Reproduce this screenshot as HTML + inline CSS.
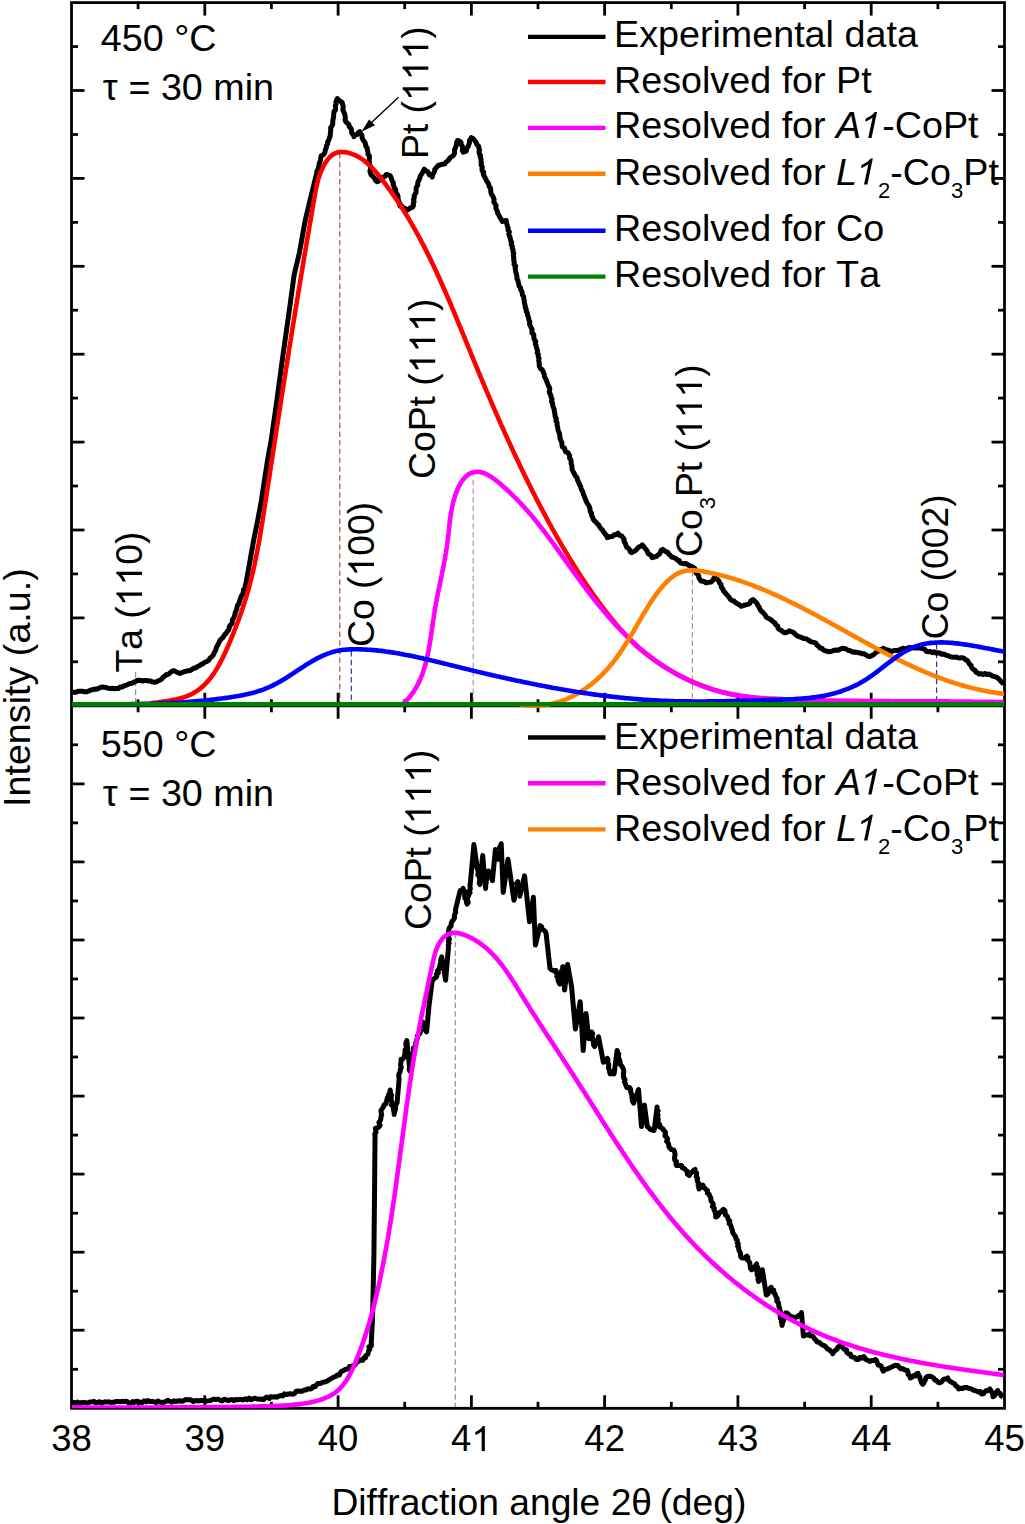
<!DOCTYPE html><html><head><meta charset="utf-8"><style>html,body{margin:0;padding:0;background:#fff;}svg{display:block;}text{font-family:"Liberation Sans",sans-serif;font-kerning:none;font-variant-ligatures:none;white-space:pre;}</style></head><body>
<svg width="1025" height="1524" viewBox="0 0 1025 1524">
<rect width="1025" height="1524" fill="#fff"/>
<line x1="135.6" y1="672" x2="135.6" y2="705.8" stroke="#7f9a85" stroke-width="1.2" stroke-dasharray="5.5 3.2"/>
<line x1="339.8" y1="153" x2="339.8" y2="705.8" stroke="#b84858" stroke-width="1.2" stroke-dasharray="5.5 3.2"/>
<line x1="351.3" y1="651" x2="351.3" y2="705.8" stroke="#3030b8" stroke-width="1.2" stroke-dasharray="5.5 3.2"/>
<line x1="473.2" y1="471" x2="473.2" y2="705.8" stroke="#b890c8" stroke-width="1.2" stroke-dasharray="5.5 3.2"/>
<line x1="692.4" y1="571" x2="692.4" y2="705.8" stroke="#b89070" stroke-width="1.2" stroke-dasharray="5.5 3.2"/>
<line x1="936.6" y1="644" x2="936.6" y2="705.8" stroke="#3030b8" stroke-width="1.2" stroke-dasharray="5.5 3.2"/>
<line x1="455.3" y1="933" x2="455.3" y2="1408.3" stroke="#a880b8" stroke-width="1.2" stroke-dasharray="5.5 3.2"/>
<g stroke="#000" stroke-width="2.8" fill="none">
<rect x="71.5" y="2.6" width="933" height="1405.7"/>
<line x1="71.5" y1="705.8" x2="1004.5" y2="705.8"/>
<line x1="138.1" y1="2.6" x2="138.1" y2="9.1"/>
<line x1="138.1" y1="705.8" x2="138.1" y2="699.3"/>
<line x1="138.1" y1="705.8" x2="138.1" y2="712.3"/>
<line x1="138.1" y1="1408.3" x2="138.1" y2="1401.8"/>
<line x1="204.8" y1="2.6" x2="204.8" y2="15.6"/>
<line x1="204.8" y1="705.8" x2="204.8" y2="692.8"/>
<line x1="204.8" y1="705.8" x2="204.8" y2="718.8"/>
<line x1="204.8" y1="1408.3" x2="204.8" y2="1395.3"/>
<line x1="271.4" y1="2.6" x2="271.4" y2="9.1"/>
<line x1="271.4" y1="705.8" x2="271.4" y2="699.3"/>
<line x1="271.4" y1="705.8" x2="271.4" y2="712.3"/>
<line x1="271.4" y1="1408.3" x2="271.4" y2="1401.8"/>
<line x1="338.1" y1="2.6" x2="338.1" y2="15.6"/>
<line x1="338.1" y1="705.8" x2="338.1" y2="692.8"/>
<line x1="338.1" y1="705.8" x2="338.1" y2="718.8"/>
<line x1="338.1" y1="1408.3" x2="338.1" y2="1395.3"/>
<line x1="404.7" y1="2.6" x2="404.7" y2="9.1"/>
<line x1="404.7" y1="705.8" x2="404.7" y2="699.3"/>
<line x1="404.7" y1="705.8" x2="404.7" y2="712.3"/>
<line x1="404.7" y1="1408.3" x2="404.7" y2="1401.8"/>
<line x1="471.4" y1="2.6" x2="471.4" y2="15.6"/>
<line x1="471.4" y1="705.8" x2="471.4" y2="692.8"/>
<line x1="471.4" y1="705.8" x2="471.4" y2="718.8"/>
<line x1="471.4" y1="1408.3" x2="471.4" y2="1395.3"/>
<line x1="538" y1="2.6" x2="538" y2="9.1"/>
<line x1="538" y1="705.8" x2="538" y2="699.3"/>
<line x1="538" y1="705.8" x2="538" y2="712.3"/>
<line x1="538" y1="1408.3" x2="538" y2="1401.8"/>
<line x1="604.6" y1="2.6" x2="604.6" y2="15.6"/>
<line x1="604.6" y1="705.8" x2="604.6" y2="692.8"/>
<line x1="604.6" y1="705.8" x2="604.6" y2="718.8"/>
<line x1="604.6" y1="1408.3" x2="604.6" y2="1395.3"/>
<line x1="671.3" y1="2.6" x2="671.3" y2="9.1"/>
<line x1="671.3" y1="705.8" x2="671.3" y2="699.3"/>
<line x1="671.3" y1="705.8" x2="671.3" y2="712.3"/>
<line x1="671.3" y1="1408.3" x2="671.3" y2="1401.8"/>
<line x1="737.9" y1="2.6" x2="737.9" y2="15.6"/>
<line x1="737.9" y1="705.8" x2="737.9" y2="692.8"/>
<line x1="737.9" y1="705.8" x2="737.9" y2="718.8"/>
<line x1="737.9" y1="1408.3" x2="737.9" y2="1395.3"/>
<line x1="804.6" y1="2.6" x2="804.6" y2="9.1"/>
<line x1="804.6" y1="705.8" x2="804.6" y2="699.3"/>
<line x1="804.6" y1="705.8" x2="804.6" y2="712.3"/>
<line x1="804.6" y1="1408.3" x2="804.6" y2="1401.8"/>
<line x1="871.2" y1="2.6" x2="871.2" y2="15.6"/>
<line x1="871.2" y1="705.8" x2="871.2" y2="692.8"/>
<line x1="871.2" y1="705.8" x2="871.2" y2="718.8"/>
<line x1="871.2" y1="1408.3" x2="871.2" y2="1395.3"/>
<line x1="937.9" y1="2.6" x2="937.9" y2="9.1"/>
<line x1="937.9" y1="705.8" x2="937.9" y2="699.3"/>
<line x1="937.9" y1="705.8" x2="937.9" y2="712.3"/>
<line x1="937.9" y1="1408.3" x2="937.9" y2="1401.8"/>
<line x1="71.5" y1="661.8" x2="78" y2="661.8"/>
<line x1="1004.5" y1="661.8" x2="998" y2="661.8"/>
<line x1="71.5" y1="617.9" x2="84.5" y2="617.9"/>
<line x1="1004.5" y1="617.9" x2="991.5" y2="617.9"/>
<line x1="71.5" y1="573.9" x2="78" y2="573.9"/>
<line x1="1004.5" y1="573.9" x2="998" y2="573.9"/>
<line x1="71.5" y1="530" x2="84.5" y2="530"/>
<line x1="1004.5" y1="530" x2="991.5" y2="530"/>
<line x1="71.5" y1="486" x2="78" y2="486"/>
<line x1="1004.5" y1="486" x2="998" y2="486"/>
<line x1="71.5" y1="442.1" x2="84.5" y2="442.1"/>
<line x1="1004.5" y1="442.1" x2="991.5" y2="442.1"/>
<line x1="71.5" y1="398.1" x2="78" y2="398.1"/>
<line x1="1004.5" y1="398.1" x2="998" y2="398.1"/>
<line x1="71.5" y1="354.2" x2="84.5" y2="354.2"/>
<line x1="1004.5" y1="354.2" x2="991.5" y2="354.2"/>
<line x1="71.5" y1="310.2" x2="78" y2="310.2"/>
<line x1="1004.5" y1="310.2" x2="998" y2="310.2"/>
<line x1="71.5" y1="266.3" x2="84.5" y2="266.3"/>
<line x1="1004.5" y1="266.3" x2="991.5" y2="266.3"/>
<line x1="71.5" y1="222.4" x2="78" y2="222.4"/>
<line x1="1004.5" y1="222.4" x2="998" y2="222.4"/>
<line x1="71.5" y1="178.4" x2="84.5" y2="178.4"/>
<line x1="1004.5" y1="178.4" x2="991.5" y2="178.4"/>
<line x1="71.5" y1="134.5" x2="78" y2="134.5"/>
<line x1="1004.5" y1="134.5" x2="998" y2="134.5"/>
<line x1="71.5" y1="90.5" x2="84.5" y2="90.5"/>
<line x1="1004.5" y1="90.5" x2="991.5" y2="90.5"/>
<line x1="71.5" y1="46.6" x2="78" y2="46.6"/>
<line x1="1004.5" y1="46.6" x2="998" y2="46.6"/>
<line x1="71.5" y1="1369.3" x2="78" y2="1369.3"/>
<line x1="1004.5" y1="1369.3" x2="998" y2="1369.3"/>
<line x1="71.5" y1="1330.2" x2="84.5" y2="1330.2"/>
<line x1="1004.5" y1="1330.2" x2="991.5" y2="1330.2"/>
<line x1="71.5" y1="1291.2" x2="78" y2="1291.2"/>
<line x1="1004.5" y1="1291.2" x2="998" y2="1291.2"/>
<line x1="71.5" y1="1252.2" x2="84.5" y2="1252.2"/>
<line x1="1004.5" y1="1252.2" x2="991.5" y2="1252.2"/>
<line x1="71.5" y1="1213.2" x2="78" y2="1213.2"/>
<line x1="1004.5" y1="1213.2" x2="998" y2="1213.2"/>
<line x1="71.5" y1="1174.1" x2="84.5" y2="1174.1"/>
<line x1="1004.5" y1="1174.1" x2="991.5" y2="1174.1"/>
<line x1="71.5" y1="1135.1" x2="78" y2="1135.1"/>
<line x1="1004.5" y1="1135.1" x2="998" y2="1135.1"/>
<line x1="71.5" y1="1096.1" x2="84.5" y2="1096.1"/>
<line x1="1004.5" y1="1096.1" x2="991.5" y2="1096.1"/>
<line x1="71.5" y1="1057" x2="78" y2="1057"/>
<line x1="1004.5" y1="1057" x2="998" y2="1057"/>
<line x1="71.5" y1="1018" x2="84.5" y2="1018"/>
<line x1="1004.5" y1="1018" x2="991.5" y2="1018"/>
<line x1="71.5" y1="979" x2="78" y2="979"/>
<line x1="1004.5" y1="979" x2="998" y2="979"/>
<line x1="71.5" y1="940" x2="84.5" y2="940"/>
<line x1="1004.5" y1="940" x2="991.5" y2="940"/>
<line x1="71.5" y1="900.9" x2="78" y2="900.9"/>
<line x1="1004.5" y1="900.9" x2="998" y2="900.9"/>
<line x1="71.5" y1="861.9" x2="84.5" y2="861.9"/>
<line x1="1004.5" y1="861.9" x2="991.5" y2="861.9"/>
<line x1="71.5" y1="822.9" x2="78" y2="822.9"/>
<line x1="1004.5" y1="822.9" x2="998" y2="822.9"/>
<line x1="71.5" y1="783.9" x2="84.5" y2="783.9"/>
<line x1="1004.5" y1="783.9" x2="991.5" y2="783.9"/>
<line x1="71.5" y1="744.8" x2="78" y2="744.8"/>
<line x1="1004.5" y1="744.8" x2="998" y2="744.8"/>
</g>
<g clip-path="url(#cp)">
<path d="M72 692.6 L74.1 692.3 L76.1 692.2 L78.1 691.3 L80.2 691.2 L82.2 691.2 L84.3 691.8 L86.4 691.8 L88.4 691.2 L90.3 690.2 L92.4 689.8 L94.4 689.1 L96.6 689.2 L98.8 688.4 L100.9 687.2 L103.4 687.1 L105.7 687.5 L108 688.2 L110.3 688.5 L112.3 688.2 L114.3 688.7 L116.4 688.6 L118.4 688.5 L120.2 687 L122.5 686.9 L124.4 685.6 L126.6 685.1 L128.3 684.3 L129.9 683.4 L131.9 683.3 L133.5 682.3 L135.3 681.6 L136.9 680.5 L138.9 680.3 L140.8 680.5 L142.7 681 L144.7 680.4 L146.6 680.5 L148.5 681 L150.6 681 L152.5 682 L154.6 682.2 L156.7 681.7 L158.5 680.8 L160.3 680 L161.9 678.8 L163.2 677.2 L164.9 676.2 L166.2 674.6 L168.3 674.2 L169.9 673 L171.4 671.6 L173.1 670.7 L174.9 671 L176.5 672 L178.2 672.8 L179.9 673.5 L181.8 672.5 L183.9 671.8 L186 671.3 L188.1 670.7 L190.3 670.4 L192.1 669.3 L193.9 668.2 L196 667.7 L197.5 666.5 L199.4 665.7 L200.9 664.5 L202.8 663.9 L204.6 662.3 L206.9 661.5 L208.9 660.2 L210 658.1 L211.9 656.7 L213.4 654.9 L214 652.9 L215.2 651.2 L216 649.3 L216.4 647.3 L217.6 645.4 L218.6 643.4 L219.4 641.3 L220.8 639.4 L222.6 637.9 L223.9 636 L224.9 634.4 L226.3 633.1 L227.2 631.4 L228.5 630 L229.2 628.3 L229.4 626.4 L230.4 624.9 L232.1 623.6 L232.2 621.7 L232.5 619.8 L233.7 618.1 L234.3 616.3 L235 614.5 L235.3 612.6 L236 610.8 L236.9 609.1 L237 607 L237.7 605.2 L239 603.6 L239.4 601.5 L240.1 599.5 L240.8 597.5 L241.6 595.6 L242.8 593.8 L243.4 591.8 L243.5 589.7 L245 588.1 L245.2 586 L245.6 584 L246.3 582 L246.6 580 L253.7 540 L257.8 520 L261.5 500 L267.6 460 L271.2 440 L276.4 403.8 L281.7 364.4 L286.3 331.6 L290.2 304 L294.1 275.1 L299.4 252.8 L305.3 220 L311.5 194.4 L316.8 172.9 L317 170.9 L318.3 169.2 L318.7 167.3 L319 165.4 L319.2 163.4 L320.1 161.6 L320.5 159.7 L320.8 157.8 L321.1 155.8 L323 155.2 L324.3 153.6 L325.1 151.7 L325.4 149.7 L326.3 147.9 L326.5 145.8 L327.6 144 L327.6 141.9 L328.8 140.1 L329.4 138.1 L330.1 136.1 L330.4 134.1 L330.4 132 L330.8 130 L330.6 128 L331.6 126.3 L332.6 124.6 L332.8 122.7 L332.8 120.7 L333.1 118.8 L333.6 117 L333.6 115.1 L333.9 113.2 L334.1 111.3 L335.6 109.7 L335.6 107.8 L335.3 105.8 L336.1 104 L335.9 102.1 L336.5 100.3 L337.3 98.5 L338.7 100.1 L340.4 101.3 L342.2 102.4 L342.6 104.4 L343.2 106.3 L343 108.3 L342.9 110.3 L343.9 112.2 L344.7 114 L345.1 116 L345.4 117.9 L345.1 120 L345.9 122 L347.7 123.3 L349 124.9 L349.3 126.8 L350.8 128.1 L351.4 129.8 L351.6 131.7 L352 133.5 L353.4 134.8 L353.9 136.6 L355 134.9 L357.2 134.5 L358.1 132.7 L359.8 131.7 L360.3 133.7 L361.9 135.1 L362 137.3 L362.7 139.2 L363.7 140.9 L365 142.5 L365.6 144.4 L365.9 146.4 L367.2 148.1 L367.5 150.2 L367.9 152.1 L367.9 154.3 L369.4 155.9 L369.5 158 L369.1 159.9 L369.3 161.8 L369.2 163.7 L370.2 165.5 L370.5 167.4 L370.6 169.3 L369.9 171.2 L370.5 173.1 L371.1 174.9 L372.5 176.1 L373.8 177.4 L375.1 178.7 L375.6 180.6 L377.1 181.7 L379 180.9 L379.8 178.8 L381.5 177.7 L383.5 177.2 L385.1 176 L386.3 174.4 L388.3 174.9 L390.2 175.8 L391.1 177.4 L391.6 179.3 L392.1 181.1 L393.4 182.6 L393.1 184.7 L394.1 186.3 L394.4 188.2 L395.8 189.7 L395.5 191.8 L396.5 193.4 L397.6 195 L398.1 196.8 L397.9 198.8 L398.6 200.5 L398.8 202.4 L400.2 204 L400 206 L402.1 206.4 L403.5 208.2 L405.6 208.7 L407.3 209.9 L409 209.1 L410.6 207.7 L412.5 207.3 L413.5 205.5 L413.2 203.5 L414.1 201.7 L413.4 199.6 L414.3 197.9 L414.1 195.9 L415.1 194.1 L416.1 192.4 L416.1 190.4 L416.1 188.4 L416.7 186.6 L417.8 185 L417.7 183 L418.4 181.2 L419.3 179.4 L419.9 177.6 L420.4 175.8 L421.5 174.2 L422.5 172.6 L423.2 170.8 L424.3 169.2 L425.5 170.6 L427.3 171.5 L428.5 172.9 L429.3 174.8 L431.2 175.4 L432.2 177.1 L432.6 175.1 L433.4 173.3 L434.5 171.6 L434.7 169.5 L436.1 167.9 L437.6 165.9 L440 164.9 L442.4 164.3 L444.9 163.9 L445.8 162.1 L447.5 161.1 L448.9 159.7 L449.8 158 L451.8 156.6 L453.7 155.1 L454.5 153.3 L454.5 151.4 L454.5 149.5 L455.6 147.8 L456 145.9 L456.8 144.2 L456.6 142.2 L457.6 140.5 L459.5 141.1 L461 142.4 L461.1 144.5 L462.3 146.2 L462.6 148.3 L462.3 150.4 L463.4 152.2 L466.3 151.2 L466.6 149.4 L467.1 147.6 L468.4 146.2 L468.8 144.4 L469.5 142.8 L469.4 140.8 L470.5 139.3 L471.2 137.6 L473.3 138.7 L474.7 140.5 L476.1 142.4 L476.8 144.5 L478.6 146.1 L479 148.3 L479.6 150 L479 152 L479.4 153.8 L480.4 155.4 L480.3 157.3 L481 159 L481 161 L481.4 162.9 L481.1 164.9 L482.3 166.8 L482 168.8 L482.1 170.7 L483.8 172.1 L483.3 174.2 L484.1 175.9 L484.9 177.6 L485.9 179.3 L486.6 181.1 L487.9 182.7 L488.8 184.4 L489.1 186.5 L490.6 188.1 L490.7 190.3 L490.9 192.4 L491.5 194.3 L492.7 196.1 L493.6 197.9 L494.1 199.9 L493.8 202.1 L495.1 203.9 L496.1 205.7 L495.8 207.9 L496.6 209.8 L497.4 211.5 L497.7 213.3 L498.8 214.9 L499.5 216.6 L500.5 218.2 L501.5 219.8 L502.4 221.5 L504.3 220.7 L506.3 220.5 L506.3 222.6 L507.1 224.5 L507.4 226.5 L508.3 228.3 L508.1 230.2 L509.4 231.8 L508.8 233.8 L509.2 235.5 L510.1 237.2 L510.3 239 L510.8 240.8 L511.7 242.5 L511.2 244.5 L512.3 246.2 L512.2 248.1 L513.1 249.8 L513 251.7 L513.8 253.4 L513.3 255.3 L513.7 257.1 L513.7 258.9 L513.8 260.8 L514.4 262.5 L514 264.4 L515.6 266 L515.1 267.9 L515.5 269.7 L515.7 271.5 L516.2 273.3 L516.6 275.1 L517 277 L517 278.9 L518 280.6 L518.3 282.4 L518.8 284.2 L519.1 286.1 L520.5 287.6 L520.7 289.6 L521.7 291.2 L522.3 293 L522.4 295 L523.6 296.6 L523.8 298.5 L524.2 300.3 L524.3 302.2 L524.7 304 L525.3 305.8 L525.3 307.7 L526.3 309.4 L526.2 311.3 L527.4 313 L527.4 314.9 L528.2 316.6 L528.6 318.4 L529 320.3 L529.9 322 L529.5 324 L530.2 325.8 L531 327.5 L532 329.1 L532 331.1 L531.9 333.1 L533.7 334.5 L533.9 336.4 L533.8 338.3 L534.7 340 L535.8 341.6 L535.3 343.7 L536.1 345.4 L536.3 347.2 L537 348.9 L537.6 350.7 L537.2 352.7 L538.3 354.6 L538.2 356.6 L539.1 358.5 L538.7 360.6 L539.1 362.5 L539.2 364.5 L539.4 366.5 L540.2 368.2 L542 369.5 L542.9 371.1 L543.6 372.9 L544.3 374.7 L544.4 376.7 L545.4 378.3 L546.2 380 L547 382.1 L547.8 384.1 L548.6 386.2 L549.7 387.9 L549.7 389.9 L549.3 392 L550 393.8 L550.9 395.6 L551.2 397.6 L552.1 399.4 L551.5 401.6 L552.6 403.4 L552.7 405.4 L553.3 407.3 L554.1 409.1 L554.3 411 L554.7 412.9 L555 414.8 L555.2 416.7 L556.3 418.6 L555.9 420.8 L557.1 422.7 L557 424.8 L557.6 426.8 L557.9 428.9 L558.2 430.9 L559.3 432.9 L559.7 434.9 L559.9 437 L560.1 439 L561.1 440.9 L561.9 442.7 L561.9 444.8 L562.4 446.9 L564.6 448.1 L565 450.3 L565.9 452 L567.8 452.7 L568.9 454.2 L569.7 455.9 L569.5 458 L570.8 459.6 L571.2 461.5 L571.1 463.5 L571.8 465.4 L572 467.4 L572.2 469.7 L573.2 471.7 L574.3 473.7 L575.4 475.8 L577 477.6 L577.5 480 L578.5 481.9 L579.2 483.9 L580.3 485.7 L580.9 487.8 L581.6 489.8 L582.8 491.6 L583.2 493.7 L584 495.7 L584.8 497.6 L585.6 499.7 L586.4 501.7 L587.4 503.6 L588.7 505.4 L589.5 507.3 L590.1 509.3 L590.2 511.4 L591.5 513.1 L591.6 515.3 L592.6 517.1 L593.2 519.2 L594.5 520.8 L596.1 522.2 L597.4 523.9 L598.8 525.2 L599.7 527 L600.9 528.5 L602.3 529.8 L603.2 531.4 L604.4 532.8 L605.3 534.4 L606.7 535.7 L607.2 537.6 L609.6 536.8 L612.1 536.6 L613.8 535 L616.1 534.5 L617.9 533.2 L619.1 535.1 L621.5 535.8 L622.8 537.6 L624.2 539.3 L624 541.6 L625.3 543.3 L625.9 545.4 L626.7 547.3 L628.4 548.2 L629.5 549.7 L630.2 551.5 L631.6 552.7 L633.1 551.7 L634.8 550.9 L636.3 549.9 L637.4 548.3 L638.9 547 L640.8 546.2 L642.3 544.9 L643.6 546.4 L644.7 548.1 L646.1 549.5 L647.2 551.2 L647.9 553.2 L649.5 554.5 L651.3 555.7 L652.1 557.6 L654.1 557 L656.2 556.5 L657.9 555.1 L659.5 554 L660.4 552.3 L661.1 550.3 L662.8 549.3 L664.2 550.6 L665.8 551.8 L667.7 552.2 L668.7 554 L670.4 555.4 L671.6 557.1 L673.8 557.6 L675.9 558.5 L677.1 560 L679.2 560.5 L680 562.5 L681.7 563.4 L683.7 563.7 L685.7 563.5 L687.6 564.4 L689.3 565.8 L691.5 566.2 L693.4 567.3 L694.9 568.7 L695.7 570.5 L695.9 572.7 L697.3 574.1 L698.7 575.6 L698.9 577.7 L699.9 579.5 L701.2 581 L703.9 581.4 L706.1 582.9 L708.5 582.4 L711 582 L712.6 580.6 L713.6 578.7 L714.9 577.1 L715.8 578.8 L717.6 579.6 L718.8 581 L719.6 583 L721.1 584.7 L721.3 587.1 L722.7 588.8 L723.6 591 L725.2 592.7 L726.6 594.6 L728.1 596.1 L729.4 597.7 L730.5 599.5 L732.1 600.6 L734 601 L735.4 602.4 L737.3 603.7 L739.4 604.8 L741.2 606.3 L743.4 605.5 L745.7 604.8 L748 604.4 L750 603.1 L750.9 600.8 L752.9 599.5 L754.4 600.7 L755.7 602.1 L757.1 603.5 L757.8 605.4 L759.1 607 L759.9 609.1 L761 610.8 L762.7 612.2 L763.9 613.6 L765.2 615 L766 616.9 L767.6 618 L769.9 619 L771.5 620.3 L773.1 621.7 L774.8 622.9 L775.8 624.7 L777.7 626 L778 628.3 L779.6 629.8 L781.5 630.3 L782.8 631.8 L784.5 632.7 L787.2 632.3 L789.4 630.7 L791 631.6 L792.8 632.2 L794.3 633.2 L795.7 634.6 L797.2 635.9 L799.1 636.6 L801.5 637.7 L804 638.5 L806.7 638.9 L808.9 640.5 L811.2 641.9 L813.8 642.4 L815.9 643.2 L816.9 645.2 L818.7 646.3 L819.9 648 L822.2 648.5 L823.5 650.2 L825.9 651 L828.4 651.7 L830.9 651.5 L833.3 650.7 L835.7 650 L838.2 650.2 L840.5 648.9 L843 648.3 L845.7 648.7 L847.9 650.2 L850.5 650.8 L852.8 652.2 L855.3 651.9 L857.7 652.7 L859.8 652.7 L861.8 653.7 L864 653.7 L865.8 654.9 L867.8 656 L869.9 656.6 L872 655.5 L874 654.3 L875.7 652.7 L877 651.4 L878.9 651 L880 649.4 L881.9 649.1 L883.5 648.2 L885.3 649.5 L887.4 649.9 L889.5 650.6 L891.3 651.7 L893.2 650.8 L895.2 650.4 L897.3 650.5 L899.3 650 L901.1 649.1 L903 648.2 L905 648.8 L907 648.4 L908.9 647.6 L910.9 647.8 L912.8 647.7 L914.8 648.1 L916.7 648.1 L918.7 648 L920.6 647.8 L922.6 648.8 L924.7 649.3 L926.2 651.3 L928.4 651.7 L930.4 651.5 L932.3 652.8 L934.3 651.8 L936.2 653.2 L938.2 652.7 L940.2 653.2 L942 654.4 L944.3 654 L946 655.2 L948.1 655.6 L949.9 656.6 L951.8 657 L953.8 657.2 L955.8 657 L957.7 657.6 L959.6 658.1 L961.6 657.6 L963.8 658.1 L965.4 659.6 L967.4 660.5 L968.4 662.4 L969.6 664.1 L971.2 665.6 L971.7 667.8 L973.3 669.3 L975 670.2 L975.9 672.1 L977.7 672.9 L979.1 674.1 L981.1 673.6 L983 674.6 L985 673.5 L986.9 674.5 L988.9 674.1 L990.8 675 L992.6 676.1 L994.6 676.7 L996.7 677.1 L998.2 678.6 L999.8 679.9 L1001 681.6 L1002.7 682.9 L1003.5 684.9" fill="none" stroke="#000000" stroke-width="5.0" stroke-linejoin="round" stroke-linecap="butt"/>
<path d="M150.2 703.5 L151.5 703.3 L152.9 703.1 L154.3 702.9 L155.7 702.7 L157.1 702.5 L158.6 702.3 L160.1 702 L161.6 701.8 L163.1 701.6 L164.6 701.4 L166.1 701.2 L167.6 700.9 L169.2 700.7 L170.7 700.4 L172.2 700.1 L173.8 699.8 L175.3 699.5 L176.8 699.1 L178.3 698.8 L179.8 698.4 L181.3 698 L182.8 697.5 L184.2 697.1 L185.7 696.6 L187.1 696 L188.5 695.5 L189.8 694.9 L191.2 694.3 L192.5 693.6 L193.8 692.9 L195 692.1 L196.2 691.4 L197.4 690.6 L198.6 689.7 L199.8 688.9 L200.9 688 L202 687 L203.1 686.1 L204.1 685.1 L205.1 684.1 L206.1 683 L207.1 682 L208.1 680.9 L209 679.8 L210 678.6 L210.9 677.5 L211.8 676.3 L212.6 675.1 L213.5 673.9 L214.3 672.7 L215.1 671.4 L215.9 670.1 L216.7 668.9 L217.5 667.6 L218.2 666.2 L219 664.9 L219.7 663.6 L220.4 662.2 L221.1 660.9 L221.8 659.5 L222.5 658.1 L223.2 656.8 L223.8 655.4 L224.5 654 L225.1 652.6 L225.8 651.2 L226.4 649.8 L227 648.4 L227.7 647 L228.3 645.5 L228.9 644.1 L229.5 642.7 L230.1 641.3 L230.7 639.9 L231.2 638.5 L231.8 637.1 L232.4 635.7 L233 634.3 L233.5 632.9 L234.1 631.5 L234.6 630.1 L235.2 628.7 L235.7 627.3 L236.3 625.9 L236.8 624.5 L237.3 623.1 L237.9 621.7 L238.4 620.3 L238.9 618.9 L239.4 617.5 L239.9 616.1 L240.4 614.7 L240.9 613.3 L241.4 611.9 L241.9 610.5 L242.3 609.1 L242.8 607.7 L243.3 606.3 L243.7 604.9 L244.2 603.4 L244.7 602 L245.1 600.6 L245.5 599.2 L246 597.8 L246.4 596.4 L246.8 595 L247.2 593.5 L247.7 592.1 L248.1 590.7 L248.5 589.3 L248.9 587.8 L249.2 586.4 L249.6 585 L250 583.5 L250.4 582.1 L250.7 580.6 L251.1 579.2 L251.5 577.8 L251.8 576.3 L252.2 574.9 L252.5 573.4 L252.9 572 L253.2 570.5 L253.5 569.1 L253.8 567.6 L254.2 566.1 L254.5 564.7 L254.8 563.2 L255.1 561.8 L255.4 560.3 L255.7 558.8 L256 557.4 L256.3 555.9 L256.6 554.4 L256.9 552.9 L257.2 551.5 L257.5 550 L257.7 548.5 L258 547 L258.3 545.6 L258.6 544.1 L258.8 542.6 L259.1 541.1 L259.4 539.7 L259.6 538.2 L259.9 536.7 L260.1 535.2 L260.4 533.7 L260.6 532.2 L260.9 530.8 L261.1 529.3 L261.4 527.8 L261.6 526.3 L261.9 524.8 L262.1 523.3 L262.3 521.8 L262.6 520.4 L262.8 518.9 L263 517.4 L263.3 515.9 L263.5 514.4 L263.7 512.9 L264 511.4 L264.2 509.9 L264.4 508.4 L264.7 506.9 L264.9 505.5 L265.1 504 L265.3 502.5 L265.6 501 L265.8 499.5 L266 498 L266.3 496.5 L266.5 495 L266.7 493.6 L266.9 492.1 L267.2 490.6 L267.4 489.1 L267.6 487.6 L267.9 486.1 L268.1 484.6 L268.3 483.1 L268.5 481.7 L268.8 480.2 L269 478.7 L269.2 477.2 L269.5 475.7 L269.7 474.2 L269.9 472.7 L270.1 471.3 L270.4 469.8 L270.6 468.3 L270.8 466.8 L271 465.3 L271.3 463.8 L271.5 462.4 L271.7 460.9 L272 459.4 L272.2 457.9 L272.4 456.4 L272.6 454.9 L272.9 453.5 L273.1 452 L273.3 450.5 L273.6 449 L273.8 447.5 L274 446 L274.2 444.6 L274.5 443.1 L274.7 441.6 L274.9 440.1 L275.2 438.6 L275.4 437.2 L275.6 435.7 L275.8 434.2 L276.1 432.7 L276.3 431.2 L276.5 429.8 L276.8 428.3 L277 426.8 L277.2 425.3 L277.5 423.8 L277.7 422.4 L277.9 420.9 L278.1 419.4 L278.4 417.9 L278.6 416.4 L278.8 415 L279.1 413.5 L279.3 412 L279.5 410.5 L279.8 409 L280 407.6 L280.2 406.1 L280.4 404.6 L280.7 403.1 L280.9 401.6 L281.1 400.2 L281.4 398.7 L281.6 397.2 L281.8 395.7 L282.1 394.3 L282.3 392.8 L282.5 391.3 L282.8 389.8 L283 388.3 L283.2 386.9 L283.5 385.4 L283.7 383.9 L283.9 382.4 L284.2 381 L284.4 379.5 L284.6 378 L284.8 376.5 L285.1 375.1 L285.3 373.6 L285.5 372.1 L285.8 370.6 L286 369.1 L286.2 367.7 L286.5 366.2 L286.7 364.7 L287 363.2 L287.2 361.8 L287.4 360.3 L287.7 358.8 L287.9 357.3 L288.1 355.8 L288.4 354.4 L288.6 352.9 L288.8 351.4 L289.1 349.9 L289.3 348.5 L289.5 347 L289.8 345.5 L290 344 L290.2 342.6 L290.5 341.1 L290.7 339.6 L291 338.1 L291.2 336.6 L291.4 335.2 L291.7 333.7 L291.9 332.2 L292.1 330.7 L292.4 329.3 L292.6 327.8 L292.9 326.3 L293.1 324.8 L293.3 323.4 L293.6 321.9 L293.8 320.4 L294 318.9 L294.3 317.4 L294.5 316 L294.8 314.5 L295 313 L295.2 311.5 L295.5 310.1 L295.7 308.6 L296 307.1 L296.2 305.6 L296.5 304.1 L296.7 302.7 L296.9 301.2 L297.2 299.7 L297.4 298.2 L297.7 296.7 L297.9 295.3 L298.1 293.8 L298.4 292.3 L298.6 290.8 L298.9 289.4 L299.1 287.9 L299.4 286.4 L299.6 284.9 L299.9 283.4 L300.1 282 L300.3 280.5 L300.6 279 L300.8 277.5 L301.1 276 L301.3 274.6 L301.6 273.1 L301.8 271.6 L302.1 270.1 L302.3 268.6 L302.6 267.2 L302.8 265.7 L303.1 264.2 L303.3 262.7 L303.5 261.2 L303.8 259.7 L304 258.3 L304.3 256.8 L304.5 255.3 L304.8 253.8 L305 252.3 L305.3 250.9 L305.5 249.4 L305.8 247.9 L306 246.4 L306.3 244.9 L306.5 243.4 L306.8 242 L307 240.5 L307.3 239 L307.6 237.5 L307.8 236 L308.1 234.5 L308.3 233.1 L308.6 231.6 L308.8 230.1 L309.1 228.6 L309.3 227.1 L309.6 225.6 L309.8 224.1 L310.1 222.7 L310.4 221.2 L310.6 219.7 L310.9 218.2 L311.1 216.7 L311.4 215.2 L311.6 213.7 L311.9 212.2 L312.2 210.8 L312.4 209.3 L312.7 207.8 L312.9 206.3 L313.2 204.8 L313.4 203.3 L313.7 201.8 L314 200.3 L314.2 198.9 L314.5 197.4 L314.8 195.9 L315 194.4 L315.3 192.9 L315.6 191.4 L315.9 189.9 L316.1 188.4 L316.5 187 L316.8 185.5 L317.1 184 L317.5 182.6 L317.8 181.1 L318.2 179.7 L318.6 178.3 L319.1 176.8 L319.5 175.4 L320 174 L320.5 172.6 L321.1 171.2 L321.7 169.9 L322.3 168.5 L322.9 167.2 L323.6 165.8 L324.3 164.5 L325.1 163.2 L325.9 162 L326.8 160.7 L327.7 159.5 L328.6 158.3 L329.6 157.2 L330.7 156.2 L331.8 155.3 L333 154.4 L334.3 153.7 L335.6 153.1 L336.9 152.7 L338.3 152.3 L339.8 152.1 L341.3 152 L342.8 152 L344.3 152.1 L345.8 152.3 L347.3 152.6 L348.8 153 L350.2 153.4 L351.6 153.8 L353 154.3 L354.4 154.8 L355.7 155.4 L357 156.1 L358.3 156.8 L359.6 157.5 L360.8 158.3 L362 159.1 L363.2 159.9 L364.4 160.8 L365.5 161.8 L366.7 162.7 L367.8 163.7 L368.9 164.7 L370 165.7 L371 166.8 L372.1 167.9 L373.1 169 L374.1 170.1 L375.1 171.2 L376.1 172.4 L377.1 173.5 L378.1 174.7 L379.1 175.9 L380 177.1 L381 178.3 L381.9 179.5 L382.8 180.7 L383.8 181.9 L384.7 183.1 L385.6 184.3 L386.5 185.5 L387.4 186.8 L388.3 188 L389.2 189.2 L390.1 190.4 L391 191.7 L391.9 192.9 L392.7 194.1 L393.6 195.4 L394.5 196.6 L395.3 197.8 L396.2 199.1 L397 200.3 L397.8 201.6 L398.7 202.8 L399.5 204.1 L400.3 205.3 L401.1 206.6 L402 207.9 L402.8 209.1 L403.6 210.4 L404.4 211.7 L405.1 212.9 L405.9 214.2 L406.7 215.5 L407.5 216.8 L408.3 218.1 L409 219.3 L409.8 220.6 L410.5 221.9 L411.3 223.2 L412 224.5 L412.8 225.8 L413.5 227.1 L414.3 228.4 L415 229.7 L415.7 231 L416.4 232.3 L417.2 233.6 L417.9 234.9 L418.6 236.2 L419.3 237.5 L420 238.8 L420.7 240.2 L421.4 241.5 L422.1 242.8 L422.8 244.1 L423.5 245.4 L424.2 246.8 L424.8 248.1 L425.5 249.4 L426.2 250.8 L426.9 252.1 L427.5 253.4 L428.2 254.8 L428.9 256.1 L429.5 257.4 L430.2 258.8 L430.8 260.1 L431.5 261.5 L432.1 262.8 L432.8 264.2 L433.4 265.5 L434 266.9 L434.7 268.2 L435.3 269.6 L435.9 270.9 L436.6 272.3 L437.2 273.6 L437.8 275 L438.4 276.4 L439.1 277.7 L439.7 279.1 L440.3 280.5 L440.9 281.8 L441.5 283.2 L442.1 284.5 L442.7 285.9 L443.3 287.3 L443.9 288.7 L444.6 290 L445.2 291.4 L445.7 292.8 L446.3 294.1 L446.9 295.5 L447.5 296.9 L448.1 298.3 L448.7 299.7 L449.3 301 L449.9 302.4 L450.5 303.8 L451.1 305.2 L451.6 306.6 L452.2 307.9 L452.8 309.3 L453.4 310.7 L454 312.1 L454.5 313.5 L455.1 314.9 L455.7 316.2 L456.3 317.6 L456.8 319 L457.4 320.4 L458 321.8 L458.6 323.2 L459.1 324.6 L459.7 326 L460.3 327.3 L460.8 328.7 L461.4 330.1 L462 331.5 L462.6 332.9 L463.1 334.3 L463.7 335.7 L464.3 337.1 L464.8 338.5 L465.4 339.9 L466 341.2 L466.5 342.6 L467.1 344 L467.7 345.4 L468.2 346.8 L468.8 348.2 L469.4 349.6 L469.9 351 L470.5 352.4 L471.1 353.8 L471.6 355.1 L472.2 356.5 L472.8 357.9 L473.3 359.3 L473.9 360.7 L474.5 362.1 L475.1 363.5 L475.6 364.9 L476.2 366.3 L476.8 367.6 L477.4 369 L477.9 370.4 L478.5 371.8 L479.1 373.2 L479.7 374.6 L480.2 376 L480.8 377.3 L481.4 378.7 L482 380.1 L482.6 381.5 L483.1 382.9 L483.7 384.3 L484.3 385.6 L484.9 387 L485.5 388.4 L486 389.8 L486.6 391.2 L487.2 392.5 L487.8 393.9 L488.4 395.3 L489 396.7 L489.6 398.1 L490.2 399.4 L490.8 400.8 L491.3 402.2 L491.9 403.6 L492.5 404.9 L493.1 406.3 L493.7 407.7 L494.3 409.1 L494.9 410.4 L495.5 411.8 L496.1 413.2 L496.7 414.6 L497.3 415.9 L497.9 417.3 L498.5 418.7 L499.1 420.1 L499.7 421.4 L500.3 422.8 L500.9 424.2 L501.5 425.5 L502.2 426.9 L502.8 428.3 L503.4 429.6 L504 431 L504.6 432.4 L505.2 433.7 L505.8 435.1 L506.5 436.5 L507.1 437.8 L507.7 439.2 L508.3 440.6 L508.9 441.9 L509.6 443.3 L510.2 444.6 L510.8 446 L511.4 447.4 L512.1 448.7 L512.7 450.1 L513.3 451.4 L513.9 452.8 L514.6 454.1 L515.2 455.5 L515.8 456.9 L516.5 458.2 L517.1 459.6 L517.8 460.9 L518.4 462.3 L519 463.6 L519.7 465 L520.3 466.3 L521 467.7 L521.6 469 L522.3 470.4 L522.9 471.7 L523.6 473.1 L524.2 474.4 L524.9 475.8 L525.5 477.1 L526.2 478.4 L526.9 479.8 L527.5 481.1 L528.2 482.5 L528.8 483.8 L529.5 485.1 L530.2 486.5 L530.8 487.8 L531.5 489.2 L532.2 490.5 L532.8 491.8 L533.5 493.2 L534.2 494.5 L534.9 495.8 L535.6 497.2 L536.2 498.5 L536.9 499.8 L537.6 501.2 L538.3 502.5 L539 503.8 L539.7 505.1 L540.4 506.5 L541.1 507.8 L541.8 509.1 L542.5 510.4 L543.2 511.8 L543.9 513.1 L544.6 514.4 L545.3 515.7 L546 517 L546.7 518.4 L547.4 519.7 L548.1 521 L548.8 522.3 L549.5 523.6 L550.3 524.9 L551 526.2 L551.7 527.6 L552.4 528.9 L553.2 530.2 L553.9 531.5 L554.6 532.8 L555.4 534.1 L556.1 535.4 L556.8 536.7 L557.6 538 L558.3 539.3 L559.1 540.6 L559.8 541.9 L560.6 543.2 L561.3 544.5 L562.1 545.8 L562.9 547.1 L563.6 548.4 L564.4 549.7 L565.1 551 L565.9 552.2 L566.7 553.5 L567.5 554.8 L568.2 556.1 L569 557.4 L569.8 558.7 L570.6 560 L571.4 561.2 L572.2 562.5 L573 563.8 L573.8 565.1 L574.6 566.3 L575.4 567.6 L576.2 568.9 L577 570.2 L577.8 571.4 L578.6 572.7 L579.4 574 L580.2 575.2 L581 576.5 L581.9 577.8 L582.7 579 L583.5 580.3 L584.4 581.5 L585.2 582.8 L586 584 L586.9 585.3 L587.7 586.5 L588.6 587.8 L589.4 589 L590.3 590.2 L591.1 591.5 L592 592.7 L592.9 593.9 L593.7 595.2 L594.6 596.4 L595.5 597.6 L596.4 598.8 L597.2 600 L598.1 601.2 L599 602.5 L599.9 603.7 L600.8 604.9 L601.7 606.1 L602.6 607.3 L603.5 608.4 L604.4 609.6 L605.3 610.8 L606.2 612 L607.2 613.2 L608.1 614.4 L609 615.5 L609.9 616.7 L610.9 617.8 L611.8 619 L612.8 620.2 L613.7 621.3 L614.6 622.5 L615.6 623.6 L616.6 624.7 L617.5 625.9 L618.5 627 L619.4 628.1 L620.4 629.2 L621.4 630.3 L622.4 631.4 L623.4 632.5 L624.4 633.6 L625.4 634.7 L626.4 635.8 L627.4 636.9 L628.4 637.9 L629.5 639 L630.5 640.1 L631.6 641.1 L632.6 642.1 L633.7 643.2 L634.8 644.2 L635.9 645.2 L637 646.2 L638.1 647.2 L639.3 648.2 L640.4 649.2 L641.5 650.1 L642.7 651.1 L643.8 652.1 L645 653 L646.2 653.9 L647.4 654.9 L648.6 655.8 L649.8 656.7 L651 657.6 L652.2 658.5 L653.4 659.4 L654.6 660.3 L655.9 661.1 L657.1 662 L658.3 662.8 L659.6 663.7 L660.9 664.5 L662.1 665.3 L663.4 666.2 L664.7 667 L666 667.8 L667.2 668.5 L668.5 669.3 L669.8 670.1 L671.1 670.8 L672.4 671.6 L673.8 672.3 L675.1 673.1 L676.4 673.8 L677.7 674.5 L679 675.2 L680.4 675.9 L681.7 676.6 L683.1 677.2 L684.4 677.9 L685.8 678.6 L687.1 679.2 L688.5 679.8 L689.8 680.5 L691.2 681.1 L692.6 681.7 L693.9 682.3 L695.3 682.9 L696.7 683.4 L698.1 684 L699.5 684.6 L700.9 685.1 L702.3 685.6 L703.6 686.2 L705.1 686.7 L706.5 687.2 L707.9 687.7 L709.3 688.2 L710.7 688.6 L712.1 689.1 L713.5 689.6 L715 690 L716.4 690.4 L717.8 690.9 L719.2 691.3 L720.7 691.7 L722.1 692.1 L723.6 692.5 L725 692.8 L726.5 693.2 L727.9 693.5 L729.4 693.9 L730.8 694.2 L732.3 694.5 L733.7 694.8 L735.2 695.1 L736.7 695.4 L738.1 695.7 L739.6 696 L741.1 696.2 L742.5 696.5 L744 696.7 L745.5 696.9 L747 697.1 L748.5 697.4 L750 697.5 L751.4 697.7 L752.9 697.9 L754.4 698 L755.9 698.2 L757.4 698.3 L758.9 698.5 L760.4 698.6 L761.9 698.7 L763.4 698.8 L764.9 698.8 L766.4 698.9 L767.9 699 L769.5 699 L771 699.1 L772.5 699.1 L774 699.1 L775.5 699.1 L777 699.1 L778.5 699.1 L780.1 699 L781.6 699 L783.1 698.9" fill="none" stroke="#ff0000" stroke-width="4.6" stroke-linejoin="round" stroke-linecap="butt"/>
<path d="M400.6 706.1 L401.8 705.1 L402.9 704.1 L404 703 L405.1 702 L406.2 700.9 L407.2 699.8 L408.2 698.7 L409.1 697.6 L410 696.5 L410.9 695.3 L411.8 694.1 L412.7 692.9 L413.5 691.7 L414.3 690.5 L415 689.3 L415.8 688.1 L416.5 686.8 L417.2 685.5 L417.9 684.2 L418.5 683 L419.1 681.6 L419.7 680.3 L420.3 679 L420.9 677.6 L421.4 676.3 L422 674.9 L422.5 673.6 L423 672.2 L423.4 670.8 L423.9 669.4 L424.3 668 L424.8 666.5 L425.2 665.1 L425.6 663.7 L425.9 662.2 L426.3 660.8 L426.7 659.3 L427 657.9 L427.3 656.4 L427.7 654.9 L428 653.4 L428.3 651.9 L428.6 650.4 L428.8 648.9 L429.1 647.4 L429.4 645.9 L429.6 644.4 L429.9 642.9 L430.1 641.4 L430.4 639.9 L430.6 638.4 L430.8 636.9 L431 635.3 L431.3 633.8 L431.5 632.3 L431.7 630.8 L431.9 629.2 L432.1 627.7 L432.4 626.2 L432.6 624.7 L432.8 623.2 L433 621.6 L433.2 620.1 L433.5 618.6 L433.7 617.1 L433.9 615.6 L434.1 614.1 L434.4 612.6 L434.6 611.1 L434.9 609.6 L435.1 608.1 L435.4 606.6 L435.7 605.2 L435.9 603.7 L436.2 602.2 L436.5 600.7 L436.7 599.3 L437 597.8 L437.3 596.4 L437.6 594.9 L437.9 593.4 L438.2 592 L438.5 590.5 L438.8 589.1 L439.1 587.6 L439.4 586.2 L439.7 584.7 L440 583.3 L440.3 581.8 L440.6 580.4 L440.9 579 L441.2 577.5 L441.5 576.1 L441.8 574.6 L442 573.2 L442.3 571.7 L442.6 570.3 L442.9 568.9 L443.2 567.4 L443.5 566 L443.8 564.5 L444 563.1 L444.3 561.6 L444.6 560.2 L444.9 558.7 L445.1 557.3 L445.4 555.8 L445.6 554.3 L445.9 552.9 L446.1 551.4 L446.3 549.9 L446.6 548.5 L446.8 547 L447 545.5 L447.2 544 L447.4 542.5 L447.6 541 L447.8 539.6 L448 538.1 L448.1 536.6 L448.3 535 L448.5 533.5 L448.6 532 L448.8 530.5 L449 529 L449.1 527.5 L449.3 526 L449.5 524.4 L449.6 522.9 L449.8 521.4 L450 519.9 L450.2 518.4 L450.4 516.9 L450.6 515.3 L450.9 513.8 L451.1 512.3 L451.4 510.8 L451.7 509.3 L452 507.8 L452.3 506.3 L452.6 504.8 L452.9 503.3 L453.3 501.8 L453.7 500.3 L454.1 498.9 L454.6 497.4 L455 495.9 L455.5 494.5 L456.1 493 L456.6 491.6 L457.2 490.1 L457.8 488.7 L458.5 487.3 L459.1 485.9 L459.9 484.5 L460.6 483.2 L461.4 481.9 L462.2 480.7 L463.1 479.5 L464 478.4 L465 477.3 L465.9 476.4 L467 475.5 L468 474.7 L469.1 474 L470.3 473.4 L471.5 472.9 L472.7 472.5 L473.9 472.2 L475.2 472 L476.4 471.9 L477.7 471.9 L479 471.9 L480.2 472.1 L481.5 472.4 L482.8 472.8 L484.1 473.2 L485.4 473.7 L486.7 474.3 L488 475 L489.2 475.7 L490.5 476.5 L491.8 477.3 L493 478.2 L494.3 479.1 L495.6 480.1 L496.8 481 L498 482 L499.3 483.1 L500.5 484.1 L501.7 485.1 L502.9 486.2 L504.1 487.2 L505.3 488.3 L506.4 489.3 L507.6 490.4 L508.7 491.5 L509.9 492.5 L511 493.6 L512.1 494.7 L513.2 495.8 L514.3 496.9 L515.4 497.9 L516.5 499 L517.6 500.1 L518.6 501.2 L519.7 502.3 L520.7 503.5 L521.8 504.6 L522.8 505.7 L523.8 506.8 L524.8 507.9 L525.9 509.1 L526.9 510.2 L527.9 511.3 L528.8 512.5 L529.8 513.6 L530.8 514.7 L531.8 515.9 L532.7 517 L533.7 518.2 L534.6 519.3 L535.6 520.5 L536.5 521.6 L537.4 522.8 L538.4 524 L539.3 525.1 L540.2 526.3 L541.1 527.5 L542 528.6 L543 529.8 L543.9 531 L544.8 532.2 L545.7 533.4 L546.5 534.5 L547.4 535.7 L548.3 536.9 L549.2 538.1 L550.1 539.3 L551 540.5 L551.8 541.7 L552.7 542.9 L553.6 544 L554.4 545.2 L555.3 546.4 L556.2 547.6 L557 548.8 L557.9 550 L558.8 551.2 L559.6 552.4 L560.5 553.6 L561.4 554.9 L562.2 556.1 L563.1 557.3 L563.9 558.5 L564.8 559.7 L565.7 560.9 L566.5 562.1 L567.4 563.3 L568.3 564.5 L569.1 565.7 L570 566.9 L570.9 568.1 L571.7 569.3 L572.6 570.6 L573.5 571.8 L574.3 573 L575.2 574.2 L576.1 575.4 L577 576.6 L577.9 577.8 L578.7 579 L579.6 580.2 L580.5 581.4 L581.4 582.6 L582.3 583.8 L583.2 585 L584.1 586.2 L585 587.4 L585.9 588.6 L586.8 589.8 L587.7 591 L588.6 592.2 L589.5 593.4 L590.4 594.6 L591.3 595.7 L592.3 596.9 L593.2 598.1 L594.1 599.3 L595 600.5 L596 601.6 L596.9 602.8 L597.8 604 L598.8 605.1 L599.7 606.3 L600.7 607.5 L601.6 608.6 L602.6 609.8 L603.6 610.9 L604.5 612.1 L605.5 613.2 L606.5 614.4 L607.4 615.5 L608.4 616.6 L609.4 617.8 L610.4 618.9 L611.4 620 L612.4 621.1 L613.4 622.2 L614.4 623.4 L615.4 624.5 L616.5 625.6 L617.5 626.7 L618.5 627.8 L619.5 628.8 L620.6 629.9 L621.6 631 L622.7 632.1 L623.7 633.1 L624.8 634.2 L625.8 635.3 L626.9 636.3 L628 637.4 L629.1 638.4 L630.2 639.4 L631.3 640.5 L632.4 641.5 L633.5 642.5 L634.6 643.5 L635.7 644.5 L636.8 645.5 L637.9 646.5 L639.1 647.5 L640.2 648.5 L641.4 649.5 L642.5 650.5 L643.7 651.4 L644.9 652.4 L646 653.3 L647.2 654.3 L648.4 655.2 L649.6 656.1 L650.8 657.1 L652 658 L653.2 658.9 L654.4 659.8 L655.6 660.7 L656.8 661.6 L658.1 662.4 L659.3 663.3 L660.5 664.1 L661.8 665 L663 665.8 L664.3 666.7 L665.6 667.5 L666.8 668.3 L668.1 669.1 L669.4 669.9 L670.7 670.7 L671.9 671.5 L673.2 672.2 L674.5 673 L675.8 673.7 L677.1 674.5 L678.5 675.2 L679.8 675.9 L681.1 676.6 L682.4 677.3 L683.8 678 L685.1 678.6 L686.4 679.3 L687.8 680 L689.1 680.6 L690.5 681.2 L691.8 681.8 L693.2 682.4 L694.6 683 L695.9 683.6 L697.3 684.2 L698.7 684.7 L700.1 685.3 L701.5 685.8 L702.9 686.3 L704.3 686.8 L705.7 687.3 L707.1 687.8 L708.5 688.3 L709.9 688.7 L711.3 689.2 L712.7 689.6 L714.1 690 L715.6 690.4 L717 690.8 L718.4 691.2 L719.8 691.6 L721.3 691.9 L722.7 692.3 L724.2 692.6 L725.6 692.9 L727.1 693.3 L728.5 693.6 L730 693.8 L731.4 694.1 L732.9 694.4 L734.4 694.7 L735.8 694.9 L737.3 695.2 L738.8 695.4 L740.3 695.6 L741.7 695.9 L743.2 696.1 L744.7 696.3 L746.2 696.5 L747.7 696.6 L749.1 696.8 L750.6 697 L752.1 697.2 L753.6 697.3 L755.1 697.5 L756.6 697.6 L758.1 697.8 L759.6 697.9 L761.1 698 L762.6 698.1 L764.1 698.2 L765.6 698.4 L767.1 698.5 L768.6 698.6 L770.1 698.7 L771.6 698.7 L773.1 698.8 L774.6 698.9 L776.1 699 L777.6 699.1 L779.2 699.1 L780.7 699.2 L782.2 699.3 L783.7 699.3 L785.2 699.4 L786.7 699.4 L788.2 699.5 L789.7 699.5 L791.2 699.6 L792.7 699.6 L794.2 699.7 L795.8 699.7 L797.3 699.8 L798.8 699.8 L800.3 699.9 L801.8 699.9 L803.3 699.9 L804.8 700 L806.3 700 L807.8 700.1 L809.3 700.1 L810.8 700.1 L812.3 700.2 L813.8 700.2 L815.3 700.2 L816.8 700.3 L818.3 700.3 L819.8 700.3 L821.3 700.4 L822.8 700.4 L824.3 700.4 L825.8 700.5 L827.3 700.5 L828.8 700.5 L830.3 700.5 L831.8 700.6 L833.3 700.6 L834.8 700.6 L836.3 700.6 L837.8 700.7 L839.3 700.7 L840.8 700.7 L842.3 700.7 L843.8 700.7 L845.3 700.8 L846.8 700.8 L848.3 700.8 L849.8 700.8 L851.3 700.8 L852.8 700.9 L854.3 700.9 L855.8 700.9 L857.3 700.9 L858.8 700.9 L860.3 700.9 L861.8 701 L863.3 701 L864.8 701 L866.2 701 L867.7 701 L869.2 701 L870.7 701 L872.2 701 L873.7 701.1 L875.2 701.1 L876.7 701.1 L878.2 701.1 L879.7 701.1 L881.2 701.1 L882.7 701.1 L884.2 701.1 L885.7 701.1 L887.2 701.1 L888.6 701.1 L890.1 701.2 L891.6 701.2 L893.1 701.2 L894.6 701.2 L896.1 701.2 L897.6 701.2 L899.1 701.2 L900.6 701.2 L902.1 701.2 L903.6 701.2 L905.1 701.2 L906.6 701.2 L908.1 701.2 L909.5 701.3 L911 701.3 L912.5 701.3 L914 701.3 L915.5 701.3 L917 701.3 L918.5 701.3 L920 701.3 L921.5 701.3 L923 701.3 L924.5 701.3 L926 701.3 L927.5 701.3 L929 701.3 L930.5 701.3 L932 701.4 L933.5 701.4 L935 701.4 L936.4 701.4 L937.9 701.4 L939.4 701.4 L940.9 701.4 L942.4 701.4 L943.9 701.4 L945.4 701.4 L946.9 701.4 L948.4 701.4 L949.9 701.5 L951.4 701.5 L952.9 701.5 L954.4 701.5 L955.9 701.5 L957.4 701.5 L958.9 701.5 L960.4 701.5 L961.9 701.6 L963.4 701.6 L964.9 701.6 L966.4 701.6 L967.9 701.6 L969.4 701.6 L970.9 701.6 L972.4 701.7 L973.9 701.7 L975.4 701.7 L976.9 701.7 L978.4 701.7 L979.9 701.7 L981.5 701.8 L983 701.8 L984.5 701.8 L986 701.8 L987.5 701.8 L989 701.9 L990.5 701.9 L992 701.9 L993.5 701.9 L995 702 L996.5 702 L998 702 L999.5 702 L1001.1 702.1 L1002.6 702.1 L1004.1 702.1" fill="none" stroke="#ff00ff" stroke-width="4.6" stroke-linejoin="round" stroke-linecap="butt"/>
<path d="M519.7 704.5 L521.3 704.7 L522.9 705 L524.5 705.2 L526 705.4 L527.6 705.5 L529.2 705.6 L530.7 705.7 L532.3 705.7 L533.8 705.7 L535.3 705.7 L536.9 705.7 L538.4 705.6 L539.9 705.5 L541.4 705.4 L542.9 705.2 L544.4 705.1 L545.9 704.9 L547.4 704.6 L548.8 704.4 L550.3 704.1 L551.7 703.8 L553.2 703.4 L554.6 703 L556.1 702.7 L557.5 702.2 L558.9 701.8 L560.3 701.3 L561.7 700.9 L563.1 700.4 L564.5 699.8 L565.9 699.3 L567.3 698.7 L568.6 698.1 L570 697.5 L571.3 696.8 L572.6 696.2 L574 695.5 L575.3 694.8 L576.6 694.1 L577.9 693.4 L579.1 692.6 L580.4 691.8 L581.7 691 L582.9 690.2 L584.2 689.4 L585.4 688.6 L586.6 687.7 L587.8 686.8 L589 685.9 L590.2 685 L591.4 684.1 L592.6 683.2 L593.7 682.2 L594.9 681.2 L596 680.3 L597.1 679.3 L598.2 678.3 L599.3 677.2 L600.4 676.2 L601.5 675.2 L602.5 674.1 L603.6 673 L604.6 672 L605.7 670.9 L606.7 669.8 L607.7 668.7 L608.6 667.6 L609.6 666.4 L610.6 665.3 L611.5 664.2 L612.5 663 L613.4 661.8 L614.3 660.7 L615.2 659.5 L616.1 658.3 L616.9 657.1 L617.8 655.9 L618.7 654.7 L619.5 653.5 L620.4 652.3 L621.2 651.1 L622 649.8 L622.8 648.6 L623.6 647.4 L624.4 646.1 L625.2 644.9 L626 643.6 L626.8 642.3 L627.6 641.1 L628.4 639.8 L629.1 638.5 L629.9 637.2 L630.7 636 L631.4 634.7 L632.2 633.4 L633 632.1 L633.7 630.8 L634.5 629.5 L635.2 628.2 L636 626.9 L636.7 625.6 L637.5 624.3 L638.3 623 L639 621.7 L639.8 620.4 L640.5 619 L641.3 617.7 L642.1 616.4 L642.8 615.1 L643.6 613.8 L644.4 612.5 L645.2 611.2 L646 609.9 L646.8 608.6 L647.6 607.2 L648.4 605.9 L649.2 604.6 L650 603.3 L650.8 602.1 L651.7 600.8 L652.5 599.5 L653.4 598.2 L654.3 597 L655.2 595.7 L656.1 594.5 L657 593.2 L657.9 592 L658.9 590.8 L659.9 589.6 L660.8 588.4 L661.8 587.2 L662.9 586 L663.9 584.9 L664.9 583.7 L666 582.6 L667.1 581.5 L668.2 580.4 L669.4 579.4 L670.5 578.4 L671.7 577.4 L672.9 576.5 L674.1 575.6 L675.3 574.8 L676.6 574.1 L677.9 573.4 L679.2 572.8 L680.5 572.3 L681.8 571.8 L683.2 571.4 L684.5 571.1 L685.9 570.8 L687.3 570.6 L688.7 570.5 L690.1 570.4 L691.6 570.4 L693 570.4 L694.5 570.4 L695.9 570.5 L697.4 570.6 L698.8 570.8 L700.3 571 L701.8 571.2 L703.3 571.4 L704.8 571.7 L706.2 572 L707.7 572.2 L709.2 572.6 L710.7 572.9 L712.1 573.2 L713.6 573.5 L715.1 573.8 L716.5 574.2 L718 574.5 L719.4 574.9 L720.9 575.3 L722.3 575.6 L723.8 576 L725.2 576.4 L726.7 576.8 L728.1 577.2 L729.5 577.6 L731 578.1 L732.4 578.5 L733.8 578.9 L735.2 579.4 L736.7 579.8 L738.1 580.3 L739.5 580.7 L740.9 581.2 L742.3 581.7 L743.7 582.2 L745.1 582.7 L746.5 583.2 L747.9 583.7 L749.3 584.2 L750.7 584.7 L752.1 585.2 L753.5 585.7 L754.9 586.3 L756.3 586.8 L757.7 587.4 L759.1 587.9 L760.5 588.5 L761.8 589 L763.2 589.6 L764.6 590.2 L766 590.7 L767.3 591.3 L768.7 591.9 L770.1 592.5 L771.4 593.1 L772.8 593.7 L774.2 594.3 L775.5 594.9 L776.9 595.5 L778.2 596.2 L779.6 596.8 L781 597.4 L782.3 598.1 L783.7 598.7 L785 599.3 L786.4 600 L787.7 600.6 L789.1 601.3 L790.4 601.9 L791.7 602.6 L793.1 603.3 L794.4 603.9 L795.8 604.6 L797.1 605.3 L798.4 606 L799.8 606.6 L801.1 607.3 L802.4 608 L803.8 608.7 L805.1 609.4 L806.4 610.1 L807.8 610.8 L809.1 611.5 L810.4 612.2 L811.8 612.9 L813.1 613.6 L814.4 614.3 L815.7 615 L817.1 615.7 L818.4 616.4 L819.7 617.2 L821 617.9 L822.3 618.6 L823.7 619.3 L825 620 L826.3 620.8 L827.6 621.5 L829 622.2 L830.3 622.9 L831.6 623.7 L832.9 624.4 L834.2 625.1 L835.5 625.9 L836.9 626.6 L838.2 627.3 L839.5 628.1 L840.8 628.8 L842.1 629.5 L843.4 630.3 L844.8 631 L846.1 631.7 L847.4 632.5 L848.7 633.2 L850 633.9 L851.4 634.7 L852.7 635.4 L854 636.1 L855.3 636.9 L856.6 637.6 L857.9 638.3 L859.3 639 L860.6 639.8 L861.9 640.5 L863.2 641.2 L864.5 641.9 L865.9 642.7 L867.2 643.4 L868.5 644.1 L869.8 644.8 L871.1 645.6 L872.5 646.3 L873.8 647 L875.1 647.7 L876.4 648.4 L877.8 649.1 L879.1 649.8 L880.4 650.5 L881.8 651.2 L883.1 651.9 L884.4 652.6 L885.8 653.3 L887.1 654 L888.4 654.7 L889.8 655.4 L891.1 656.1 L892.4 656.8 L893.8 657.4 L895.1 658.1 L896.4 658.8 L897.8 659.5 L899.1 660.1 L900.5 660.8 L901.8 661.4 L903.2 662.1 L904.5 662.7 L905.9 663.4 L907.2 664 L908.6 664.7 L909.9 665.3 L911.3 665.9 L912.6 666.6 L914 667.2 L915.4 667.8 L916.7 668.4 L918.1 669 L919.5 669.6 L920.8 670.2 L922.2 670.8 L923.6 671.4 L924.9 672 L926.3 672.6 L927.7 673.1 L929.1 673.7 L930.4 674.3 L931.8 674.8 L933.2 675.4 L934.6 675.9 L936 676.5 L937.4 677 L938.8 677.5 L940.2 678.1 L941.6 678.6 L943 679.1 L944.4 679.6 L945.8 680.1 L947.2 680.6 L948.6 681.1 L950 681.5 L951.4 682 L952.9 682.5 L954.3 682.9 L955.7 683.4 L957.1 683.8 L958.6 684.3 L960 684.7 L961.4 685.1 L962.9 685.5 L964.3 686 L965.7 686.4 L967.2 686.7 L968.6 687.1 L970.1 687.5 L971.5 687.9 L973 688.2 L974.4 688.6 L975.9 688.9 L977.4 689.3 L978.8 689.6 L980.3 689.9 L981.8 690.2 L983.3 690.5 L984.8 690.8 L986.2 691.1 L987.7 691.4 L989.2 691.7 L990.7 691.9 L992.2 692.2 L993.7 692.4 L995.2 692.7 L996.7 692.9 L998.2 693.1 L999.8 693.3 L1001.3 693.5 L1002.8 693.7 L1004.3 693.8" fill="none" stroke="#ff8000" stroke-width="4.6" stroke-linejoin="round" stroke-linecap="butt"/>
<path d="M72 704.2 L73.5 704.2 L75 704.2 L76.5 704.2 L78 704.2 L79.5 704.2 L81 704.2 L82.5 704.2 L84 704.2 L85.5 704.2 L87 704.2 L88.5 704.2 L90 704.2 L91.5 704.2 L93 704.2 L94.5 704.2 L96 704.2 L97.5 704.3 L99 704.3 L100.5 704.3 L102 704.3 L103.5 704.3 L105 704.3 L106.5 704.3 L108 704.3 L109.5 704.3 L111 704.3 L112.5 704.3 L114 704.2 L115.5 704.2 L117 704.2 L118.5 704.2 L120 704.2 L121.4 704.2 L122.9 704.2 L124.4 704.2 L125.9 704.2 L127.4 704.2 L128.9 704.2 L130.4 704.1 L131.9 704.1 L133.4 704.1 L134.9 704.1 L136.4 704.1 L137.9 704 L139.4 704 L140.9 704 L142.4 703.9 L143.9 703.9 L145.4 703.9 L146.9 703.8 L148.4 703.8 L149.9 703.8 L151.4 703.7 L152.9 703.7 L154.4 703.6 L155.9 703.6 L157.4 703.5 L158.9 703.5 L160.4 703.4 L161.9 703.4 L163.4 703.3 L164.9 703.3 L166.4 703.2 L167.8 703.1 L169.3 703.1 L170.8 703 L172.3 702.9 L173.8 702.8 L175.3 702.7 L176.8 702.7 L178.3 702.6 L179.8 702.5 L181.3 702.4 L182.8 702.3 L184.3 702.2 L185.8 702.1 L187.3 702 L188.8 701.9 L190.3 701.8 L191.7 701.6 L193.2 701.5 L194.7 701.4 L196.2 701.3 L197.7 701.1 L199.2 701 L200.7 700.9 L202.2 700.7 L203.7 700.6 L205.2 700.4 L206.7 700.3 L208.2 700.1 L209.6 700 L211.1 699.8 L212.6 699.6 L214.1 699.5 L215.6 699.3 L217.1 699.1 L218.6 698.9 L220.1 698.7 L221.6 698.5 L223.1 698.3 L224.5 698.1 L226 697.9 L227.5 697.7 L229 697.5 L230.5 697.2 L232 697 L233.5 696.8 L234.9 696.5 L236.4 696.3 L237.9 696 L239.4 695.8 L240.9 695.5 L242.3 695.2 L243.8 694.9 L245.3 694.6 L246.7 694.3 L248.2 693.9 L249.6 693.6 L251.1 693.2 L252.5 692.9 L254 692.5 L255.4 692.1 L256.8 691.6 L258.3 691.2 L259.7 690.7 L261.1 690.3 L262.5 689.8 L263.9 689.3 L265.3 688.7 L266.7 688.2 L268 687.6 L269.4 687 L270.8 686.4 L272.1 685.8 L273.4 685.1 L274.8 684.4 L276.1 683.8 L277.4 683 L278.7 682.3 L280 681.6 L281.3 680.8 L282.6 680 L283.9 679.3 L285.2 678.5 L286.5 677.7 L287.8 676.9 L289 676 L290.3 675.2 L291.6 674.4 L292.9 673.6 L294.1 672.7 L295.4 671.9 L296.7 671 L297.9 670.2 L299.2 669.4 L300.5 668.5 L301.7 667.7 L303 666.9 L304.3 666.1 L305.5 665.2 L306.8 664.4 L308.1 663.6 L309.4 662.9 L310.7 662.1 L312 661.3 L313.3 660.6 L314.6 659.8 L315.9 659.1 L317.2 658.4 L318.5 657.7 L319.9 657.1 L321.2 656.4 L322.5 655.8 L323.9 655.2 L325.2 654.6 L326.6 654.1 L328 653.5 L329.4 653.1 L330.8 652.6 L332.2 652.1 L333.6 651.7 L335 651.4 L336.4 651 L337.8 650.7 L339.3 650.4 L340.7 650.2 L342.2 650 L343.7 649.8 L345.1 649.7 L346.6 649.6 L348.1 649.5 L349.6 649.4 L351.1 649.4 L352.6 649.3 L354.1 649.3 L355.6 649.3 L357.1 649.3 L358.5 649.3 L360 649.4 L361.5 649.4 L363 649.5 L364.6 649.5 L366.1 649.6 L367.6 649.7 L369.1 649.8 L370.6 649.9 L372.1 650 L373.6 650.1 L375.1 650.3 L376.6 650.4 L378.1 650.6 L379.6 650.8 L381.1 650.9 L382.6 651.1 L384.1 651.3 L385.6 651.5 L387.1 651.7 L388.6 651.9 L390.1 652.1 L391.5 652.4 L393 652.6 L394.5 652.8 L396 653.1 L397.5 653.3 L399 653.6 L400.5 653.9 L401.9 654.1 L403.4 654.4 L404.9 654.7 L406.4 655 L407.8 655.2 L409.3 655.5 L410.8 655.8 L412.2 656.1 L413.7 656.4 L415.2 656.7 L416.6 657.1 L418.1 657.4 L419.6 657.7 L421 658 L422.5 658.3 L424 658.7 L425.4 659 L426.9 659.3 L428.3 659.7 L429.8 660 L431.2 660.4 L432.7 660.7 L434.1 661.1 L435.6 661.4 L437.1 661.8 L438.5 662.1 L440 662.5 L441.4 662.8 L442.9 663.2 L444.3 663.5 L445.8 663.9 L447.2 664.3 L448.7 664.6 L450.1 665 L451.6 665.3 L453 665.7 L454.5 666.1 L455.9 666.4 L457.4 666.8 L458.8 667.1 L460.3 667.5 L461.7 667.9 L463.2 668.2 L464.6 668.6 L466.1 668.9 L467.5 669.3 L469 669.6 L470.5 670 L471.9 670.3 L473.4 670.7 L474.8 671 L476.3 671.4 L477.7 671.7 L479.2 672.1 L480.6 672.4 L482.1 672.8 L483.6 673.1 L485 673.5 L486.5 673.8 L487.9 674.2 L489.4 674.5 L490.8 674.8 L492.3 675.2 L493.8 675.5 L495.2 675.8 L496.7 676.2 L498.1 676.5 L499.6 676.8 L501.1 677.2 L502.5 677.5 L504 677.8 L505.5 678.1 L506.9 678.5 L508.4 678.8 L509.8 679.1 L511.3 679.4 L512.8 679.7 L514.2 680.1 L515.7 680.4 L517.2 680.7 L518.6 681 L520.1 681.3 L521.6 681.6 L523 681.9 L524.5 682.2 L526 682.5 L527.4 682.8 L528.9 683.1 L530.4 683.4 L531.8 683.7 L533.3 684 L534.8 684.3 L536.2 684.6 L537.7 684.9 L539.2 685.2 L540.7 685.5 L542.1 685.8 L543.6 686 L545.1 686.3 L546.5 686.6 L548 686.9 L549.5 687.1 L551 687.4 L552.4 687.7 L553.9 688 L555.4 688.2 L556.9 688.5 L558.3 688.8 L559.8 689 L561.3 689.3 L562.8 689.5 L564.2 689.8 L565.7 690 L567.2 690.3 L568.7 690.5 L570.1 690.8 L571.6 691 L573.1 691.3 L574.6 691.5 L576 691.7 L577.5 692 L579 692.2 L580.5 692.4 L582 692.6 L583.4 692.9 L584.9 693.1 L586.4 693.3 L587.9 693.5 L589.4 693.7 L590.8 693.9 L592.3 694.2 L593.8 694.4 L595.3 694.6 L596.8 694.8 L598.3 695 L599.7 695.2 L601.2 695.4 L602.7 695.5 L604.2 695.7 L605.7 695.9 L607.2 696.1 L608.6 696.3 L610.1 696.5 L611.6 696.6 L613.1 696.8 L614.6 697 L616.1 697.1 L617.6 697.3 L619.1 697.5 L620.5 697.6 L622 697.8 L623.5 697.9 L625 698.1 L626.5 698.2 L628 698.3 L629.5 698.5 L631 698.6 L632.5 698.8 L633.9 698.9 L635.4 699 L636.9 699.1 L638.4 699.3 L639.9 699.4 L641.4 699.5 L642.9 699.6 L644.4 699.7 L645.9 699.8 L647.4 699.9 L648.9 700 L650.4 700.1 L651.9 700.2 L653.4 700.3 L654.8 700.4 L656.3 700.4 L657.8 700.5 L659.3 700.6 L660.8 700.7 L662.3 700.7 L663.8 700.8 L665.3 700.9 L666.8 700.9 L668.3 701 L669.8 701 L671.3 701.1 L672.8 701.1 L674.3 701.2 L675.8 701.2 L677.3 701.2 L678.8 701.3 L680.3 701.3 L681.8 701.3 L683.3 701.4 L684.8 701.4 L686.3 701.4 L687.8 701.4 L689.3 701.4 L690.8 701.4 L692.3 701.5 L693.8 701.5 L695.3 701.5 L696.8 701.5 L698.3 701.5 L699.8 701.5 L701.3 701.5 L702.8 701.5 L704.3 701.5 L705.8 701.5 L707.3 701.4 L708.8 701.4 L710.3 701.4 L711.8 701.4 L713.3 701.4 L714.8 701.4 L716.3 701.3 L717.8 701.3 L719.3 701.3 L720.8 701.3 L722.3 701.2 L723.8 701.2 L725.3 701.2 L726.8 701.1 L728.4 701.1 L729.9 701.1 L731.4 701 L732.9 701 L734.4 701 L735.9 700.9 L737.4 700.9 L738.9 700.9 L740.4 700.8 L741.9 700.8 L743.4 700.7 L744.9 700.7 L746.4 700.7 L747.9 700.6 L749.4 700.6 L750.9 700.5 L752.4 700.5 L753.9 700.4 L755.4 700.4 L756.9 700.3 L758.4 700.3 L759.9 700.2 L761.4 700.2 L762.8 700.2 L764.3 700.1 L765.8 700.1 L767.3 700 L768.8 700 L770.3 699.9 L771.8 699.9 L773.3 699.8 L774.8 699.8 L776.3 699.7 L777.8 699.7 L779.3 699.7 L780.8 699.6 L782.3 699.6 L783.8 699.5 L785.3 699.5 L786.8 699.4 L788.3 699.4 L789.7 699.3 L791.2 699.2 L792.7 699.2 L794.2 699.1 L795.7 699 L797.2 698.9 L798.7 698.8 L800.2 698.7 L801.7 698.6 L803.1 698.5 L804.6 698.4 L806.1 698.3 L807.6 698.1 L809.1 698 L810.6 697.8 L812 697.6 L813.5 697.4 L815 697.2 L816.5 697 L818 696.8 L819.4 696.6 L820.9 696.3 L822.4 696 L823.9 695.8 L825.3 695.5 L826.8 695.2 L828.3 694.8 L829.7 694.5 L831.2 694.1 L832.6 693.8 L834.1 693.4 L835.5 693 L837 692.6 L838.4 692.1 L839.8 691.7 L841.3 691.2 L842.7 690.7 L844.1 690.2 L845.5 689.7 L846.9 689.2 L848.3 688.6 L849.7 688 L851.1 687.4 L852.4 686.8 L853.8 686.2 L855.2 685.6 L856.5 684.9 L857.9 684.2 L859.2 683.5 L860.5 682.8 L861.8 682 L863.1 681.3 L864.4 680.5 L865.7 679.7 L867 678.9 L868.2 678 L869.5 677.2 L870.7 676.3 L872 675.4 L873.2 674.6 L874.5 673.7 L875.7 672.7 L876.9 671.8 L878.1 670.9 L879.3 670 L880.5 669 L881.7 668.1 L882.9 667.2 L884.1 666.2 L885.3 665.3 L886.5 664.3 L887.7 663.4 L888.9 662.5 L890.2 661.6 L891.4 660.7 L892.6 659.7 L893.8 658.9 L895 658 L896.2 657.1 L897.4 656.2 L898.7 655.4 L899.9 654.6 L901.1 653.8 L902.4 653 L903.6 652.2 L904.9 651.5 L906.2 650.8 L907.5 650.1 L908.8 649.4 L910.1 648.8 L911.4 648.2 L912.7 647.6 L914 647 L915.4 646.5 L916.7 646 L918.1 645.6 L919.5 645.2 L920.9 644.8 L922.3 644.4 L923.7 644.1 L925.2 643.8 L926.6 643.6 L928.1 643.3 L929.5 643.1 L931 642.9 L932.5 642.8 L934 642.7 L935.5 642.6 L937 642.5 L938.5 642.5 L940 642.4 L941.5 642.4 L943 642.4 L944.6 642.5 L946.1 642.5 L947.6 642.6 L949.2 642.7 L950.7 642.8 L952.2 642.9 L953.7 643.1 L955.3 643.2 L956.8 643.4 L958.3 643.6 L959.9 643.8 L961.4 644 L962.9 644.2 L964.4 644.4 L965.9 644.6 L967.4 644.8 L968.9 645.1 L970.4 645.3 L971.9 645.6 L973.4 645.8 L974.8 646.1 L976.3 646.3 L977.7 646.6 L979.2 646.9 L980.6 647.1 L982.1 647.4 L983.5 647.7 L985 648 L986.4 648.2 L987.9 648.5 L989.3 648.8 L990.8 649.1 L992.2 649.4 L993.7 649.6 L995.1 649.9 L996.6 650.2 L998 650.5 L999.5 650.8 L1001 651.1 L1002.5 651.3 L1004 651.6" fill="none" stroke="#0000ff" stroke-width="4.6" stroke-linejoin="round" stroke-linecap="butt"/>
<path d="M71.5 704.2 L1004.5 704.2" fill="none" stroke="#008000" stroke-width="4.4" stroke-linejoin="round" stroke-linecap="butt"/>
<path d="M72 1403 L73.8 1402.3 L75.7 1403.7 L77.5 1402.1 L79.5 1403.6 L81.3 1402.6 L83.2 1402.8 L85 1402.5 L86.8 1403.1 L88.6 1402.5 L90.5 1402 L92.3 1401.8 L94.1 1401.5 L95.9 1403 L97.7 1402.3 L99.6 1401.7 L101.4 1403.2 L103.2 1402.4 L105 1401.8 L106.9 1402.1 L108.8 1401.8 L110.7 1402.4 L112.5 1402.2 L114.4 1402.2 L116.2 1401.4 L118.1 1401.4 L120 1401.8 L121.8 1401.3 L123.6 1401.6 L125.4 1401.2 L127.2 1401.4 L129 1403.2 L130.8 1403.3 L132.6 1401.6 L134.4 1402.4 L136.3 1401.2 L138.3 1401.5 L140.3 1402.5 L142.2 1402.6 L144.1 1400.8 L146.1 1401.9 L148 1400.5 L150 1401.5 L152 1401.5 L153.9 1401.8 L155.9 1402.6 L157.8 1401 L159.8 1402.2 L161.8 1402.3 L163.7 1402.4 L165.7 1401.5 L167.7 1400.3 L169.8 1401.2 L171.9 1402.2 L173.9 1400.8 L176 1401.6 L178 1400.9 L180 1400.7 L181.9 1401.3 L183.8 1400.6 L185.6 1399.6 L187.5 1399.7 L189.4 1399.7 L191.3 1400 L193.2 1401.6 L195 1400.8 L196.9 1400.5 L198.8 1401.1 L200.7 1400.5 L202.6 1400.5 L204.5 1400.8 L206.4 1401 L208.3 1400.9 L210.1 1400.6 L212 1399.8 L214.1 1399 L216 1399.7 L218.1 1399 L220 1400.3 L222 1400.9 L224.1 1399.3 L226.1 1399.7 L228.1 1400.5 L229.9 1400 L231.8 1399.6 L233.8 1400.6 L235.6 1399.4 L237.5 1399.9 L239.4 1399.4 L241.3 1399.4 L243.2 1400 L245 1398.8 L247 1399.8 L249.1 1398.1 L251.1 1399.8 L253.2 1398.7 L255.2 1398.3 L257.3 1399 L259.3 1399.3 L261.3 1399 L263.4 1399.7 L265.1 1398.1 L266.9 1397 L269.2 1398.5 L270.9 1396.6 L272.9 1397.1 L274.9 1396.8 L277 1397.2 L278.8 1396.1 L280.7 1395.5 L282.8 1395.9 L284.4 1393.8 L286.6 1394.6 L288.5 1393.9 L290.5 1393.7 L292.7 1394.3 L294.6 1393.4 L296.2 1391.3 L298.2 1391.1 L300.3 1391.2 L302.4 1391.3 L304.2 1390 L306.2 1389.9 L307.8 1388.8 L310.1 1389.1 L311.8 1388.4 L313 1386.5 L315.2 1386.7 L316.4 1384.8 L317.9 1383.5 L320.1 1383.6 L321.8 1382.7 L323.7 1382.1 L325.7 1381.7 L327.5 1381 L329 1379.8 L330.7 1378.9 L332.4 1377.9 L334.1 1377 L335.9 1376.3 L337.4 1374.9 L339.5 1374.9 L340.4 1372.8 L341.6 1371.3 L343.3 1370.7 L344.9 1369.7 L346.6 1369.1 L348.7 1369 L349.4 1366.6 L351.4 1366.4 L353 1365.6 L354.9 1365.2 L355.9 1363.2 L357.2 1361.9 L358.9 1361.2 L360.3 1360 L362.7 1360.3 L363.6 1358.2 L365.5 1357.8 L365.6 1355.8 L367.6 1354.5 L368.3 1352.8 L368.5 1350.8 L369.9 1349.3 L368.9 1346.9 L371.4 1345.8 L371.2 1343.7 L372.5 1320 L373.9 1256.3 L374.5 1197.2 L375 1138.1 L375.2 1136.1 L374.7 1134.2 L376 1132.2 L375.7 1130.3 L375.4 1128.3 L378.4 1127.3 L380.1 1125.3 L378.9 1122.5 L380.4 1120.4 L380.9 1118.5 L381 1116.5 L381.7 1114.6 L381.1 1112.4 L381 1110.4 L382.3 1108.6 L383.4 1106.9 L384 1105 L386 1103.9 L386.3 1101.7 L386.9 1099.7 L387.4 1097.7 L388.5 1095.9 L389 1093.9 L390.5 1092.2 L390.2 1089.9 L389.9 1091.8 L390.8 1093.6 L391.7 1095.3 L391.1 1097.2 L391.1 1099.1 L391.4 1101 L392.2 1102.7 L391.4 1104.8 L393.4 1106.5 L393.3 1108.6 L393.6 1110.5 L394.2 1112.5 L394.1 1114.5 L394.3 1112.5 L395.1 1110.6 L395.7 1108.6 L395.6 1106.5 L395.8 1104.5 L397.1 1102.7 L399.1 1079.1 L398.9 1077.1 L398.7 1075.1 L399.3 1073.2 L400.3 1071.3 L400.3 1069.3 L401.3 1067.4 L400.6 1065.3 L400.7 1063.4 L401.1 1061.4 L401 1059.4 L402.8 1058.8 L404 1057.4 L404.6 1055.6 L404.8 1053.7 L405.2 1051.9 L405 1049.9 L406.2 1048.2 L406.2 1046.3 L405.8 1044.3 L406 1042.5 L406.9 1040.7 L409.9 1071.2 L409.2 1069.1 L410.1 1067.2 L409.6 1065.1 L410.2 1063.2 L410.2 1061.2 L410.9 1059.3 L411.3 1057.3 L411.9 1055.4 L412.6 1053.7 L413.6 1052.1 L413.8 1050.2 L413.4 1048.2 L415.4 1046.9 L415.7 1045.1 L415.7 1043.2 L416.6 1041.5 L416.8 1039.7 L417.4 1037.9 L417.3 1035.9 L418.9 1034.5 L420.2 1033 L420.3 1031 L419.7 1028.9 L420.2 1027.1 L422.3 1025.8 L422.9 1024 L422.7 1022 L423 1024.1 L423.8 1026.1 L425.7 1027.6 L425.2 1030.1 L426.6 1031.8 L429 1005.6 L432 982.2 L432.7 980.3 L433.9 978.8 L435.5 977.7 L436.8 976.3 L436.3 974.3 L438.4 972.9 L437.5 970.8 L439 969.3 L439.2 967.5 L440 965.8 L440.1 963.9 L441.3 962.3 L440.6 960.3 L441.2 958.6 L441.7 956.8 L445.6 980.2 L448.5 947.1 L448.3 945.1 L449.2 943.2 L448.4 941.2 L449.5 939.3 L448.2 937.3 L448.6 935.4 L449.1 933.4 L448.6 931.5 L448.8 929.5 L449.5 927.6 L451.1 926 L451.2 923.6 L451.9 921.5 L453.4 919.8 L454.5 918 L454.3 915.9 L454.9 914 L455.8 912.1 L455.4 910 L460.2 890.5 L461.9 889.9 L463.2 888.5 L464.1 890.3 L465.1 892.2 L464.6 894.4 L464.7 896.4 L465 898.4 L466.7 900 L466.4 902.2 L467.1 904.1 L468.3 902.3 L467.3 900.1 L467.7 898.2 L468.2 896.3 L468.9 894.4 L470 892.6 L469.5 890.5 L470.4 888.7 L470 886.6 L473.9 844.6 L476.8 865.1 L476.8 867.1 L477.5 869 L478.1 870.9 L478.3 872.9 L477.8 874.9 L479.2 876.7 L479.6 878.6 L479.8 880.6 L479.2 882.7 L479.8 884.6 L482.7 855.4 L485.6 888.5 L485.7 886.5 L485.7 884.5 L486.2 882.6 L486.1 880.6 L487.1 878.8 L488.1 876.9 L487.7 874.9 L488.1 872.9 L488.5 871 L490.2 872.6 L490.5 874.7 L491.6 876.5 L492.5 878.4 L492.4 880.7 L495.4 849.5 L495.3 851.7 L496.1 853.5 L496.5 855.6 L498.4 857.1 L498.3 859.3 L498.4 857.3 L499.8 855.6 L499.3 853.4 L500.6 851.7 L501 849.7 L499.5 847.4 L500.7 845.6 L501.2 843.7 L503.2 892.4 L508 859.3 L513.9 900.2 L514.5 898.4 L514.4 896.4 L514.8 894.6 L515.2 892.7 L515.3 890.8 L515.3 888.9 L517.1 887.3 L518 885.6 L516.5 883.4 L517.8 881.7 L517.3 883.6 L518.2 885.4 L519.5 887 L519.7 888.9 L519 890.8 L520.1 892.5 L520 894.4 L519.8 896.3 L524.6 875.9 L529.5 921.7 L533.4 897.3 L535.4 945.1 L540.2 925.6 L541.7 926.9 L541.8 929.3 L543.8 930.2 L545.3 931.6 L546.1 933.4 L550 968.5 L551.7 970 L553.6 970.7 L555.9 970.5 L556 972.6 L557.7 974.2 L556.8 976.5 L558.2 978.2 L558.1 980.4 L558.8 982.3 L559.8 984.1 L560.4 982.2 L561 980.3 L561.4 978.4 L561 976.3 L561.4 974.4 L560.9 972.3 L561.8 970.4 L563.1 968.7 L562.7 966.6 L564.6 990 L567.6 964.6 L571.5 986.1 L575.4 1029 L580.2 1001.7 L583.2 1050.5 L586 1013.4 L588.8 1038.8 L589 1036.9 L590.7 1035.6 L591.5 1033.9 L591.7 1032 L592.7 1033.7 L591.9 1035.8 L592.5 1037.5 L592.2 1039.5 L593.7 1041.1 L593.4 1043.1 L593.6 1044.9 L594.6 1046.6 L595.2 1044.6 L595.6 1042.5 L596.7 1040.6 L598 1038.9 L598.5 1036.8 L603.4 1062.2 L604.4 1060.6 L606.5 1060.1 L607.3 1058.3 L608.1 1060.2 L607.5 1062.3 L608.7 1064.1 L608.7 1066.1 L608.4 1068.2 L609.5 1070 L609.6 1072 L610.2 1073.9 L612.2 1073.6 L614.1 1073.9 L617.1 1050.5 L617.6 1052.4 L618.8 1054.2 L618.3 1056.3 L618.9 1058.3 L619.6 1060.1 L620.2 1062 L620 1064.1 L621.7 1065.9 L622.9 1068 L623.6 1069.9 L623.8 1071.9 L623.3 1074 L623.5 1076 L623.7 1077.9 L625.1 1079.7 L624.4 1081.8 L625.4 1083.7 L625.9 1085.6 L626.9 1087.7 L629.6 1087.6 L630.7 1089.5 L630.6 1091.6 L631.4 1093.5 L632 1095.4 L631.9 1097.4 L632.2 1099.4 L632.6 1101.4 L633.7 1103.2 L634 1101.4 L634.7 1099.7 L635.7 1098.1 L635.2 1096 L637.3 1094.8 L637.5 1093 L637.8 1091.2 L638.5 1089.5 L641.5 1126.6 L644.4 1105.1 L647.3 1126.6 L648.9 1127.8 L650.2 1129.3 L652.1 1130.1 L654.1 1130.5 L657.1 1107.1 L657 1109.1 L658.1 1110.9 L656.7 1113 L658.1 1114.9 L657.2 1116.9 L658.2 1118.8 L658.1 1120.8 L657.8 1122.8 L659.7 1124.6 L659 1126.6 L660.9 1127.6 L662.7 1128.7 L663.9 1130.5 L665.3 1132 L665.4 1133.9 L664.9 1136 L666.7 1137.3 L667.6 1139 L666.6 1141.3 L668 1142.7 L668.7 1144.5 L668.9 1146.4 L669.8 1148 L671.5 1149.6 L673.7 1150 L674.6 1151.9 L675 1153.8 L674.9 1155.8 L674.5 1157.9 L674.7 1159.9 L676.5 1161.6 L675.9 1163.7 L676.6 1165.6 L679 1165.5 L681.5 1165.6 L682.2 1167.7 L684.4 1168.6 L685.8 1170.2 L687.4 1171.5 L687.4 1174.2 L689.3 1175.4 L690.3 1173.5 L691.9 1172.1 L693.3 1170.6 L695.1 1169.5 L694.6 1171.4 L696.6 1172.9 L696.5 1174.8 L696.2 1176.7 L697.5 1178.2 L697.1 1180.2 L697.7 1181.9 L698.9 1183.5 L698.1 1185.5 L698.9 1187.2 L699 1189 L699.9 1187.3 L702.3 1187.1 L702.9 1185.1 L703.3 1187 L704.9 1188.2 L706.1 1189.6 L707.6 1190.8 L707.4 1193.2 L709.1 1194.2 L709.7 1196 L710.7 1197.6 L710.9 1199.4 L711.1 1201.3 L712.7 1202.8 L713.3 1204.5 L712.4 1206.6 L714.2 1208 L714 1210 L715.2 1211.6 L715.3 1213.4 L715.8 1215.2 L715.6 1217.1 L717.4 1216.3 L718.5 1214.8 L719.1 1212.8 L720.9 1212 L722.1 1210.6 L723.4 1209.3 L724.9 1210.7 L725.2 1212.7 L725.3 1214.8 L727.2 1216 L727.8 1217.8 L728.3 1219.7 L729.8 1221.1 L729.1 1223.5 L730.6 1225 L731.2 1226.8 L731.6 1228.6 L732.5 1230.3 L732.6 1232.2 L733.5 1233.8 L734.7 1235.4 L735.8 1236.9 L735.9 1238.9 L737.4 1240.3 L737.1 1242.4 L738.4 1243.9 L737.6 1246.1 L738.7 1247.6 L738.7 1249.5 L739.4 1251.2 L740.3 1252.8 L740.5 1254.7 L740.6 1256.5 L742 1258 L744.7 1257.9 L746.8 1256.1 L747.9 1257.6 L747.3 1259.8 L748.7 1261.2 L749.8 1262.8 L750 1264.6 L750.3 1266.4 L750.4 1268.3 L751.7 1269.8 L753.5 1268.8 L754.2 1266.9 L755.8 1265.8 L756.6 1263.9 L756.8 1265.9 L757.8 1267.7 L757.4 1269.8 L757 1271.8 L757.1 1273.7 L757.5 1275.7 L759.1 1277.5 L757.9 1279.6 L758.5 1281.5 L760.1 1279.9 L759.3 1277.4 L760.9 1275.8 L760.5 1273.5 L762.3 1271.9 L762.4 1269.8 L766.3 1295.1 L768 1294 L767.8 1291.7 L769.8 1290.8 L769.9 1288.6 L771.2 1287.3 L771.3 1289.3 L773.7 1290.1 L773.2 1292.4 L775 1293.6 L775.5 1295.3 L776.1 1297.1 L777.3 1298.8 L776.7 1301.2 L778.4 1302.7 L778.7 1304.8 L779 1306.8 L779.6 1308.6 L780.1 1310.4 L780.4 1312.3 L779.7 1314.3 L780.3 1316.1 L780.3 1318 L781.8 1319.7 L781.3 1321.7 L782.5 1323.4 L782 1325.4 L781.8 1323.3 L783 1321.7 L783.8 1320 L784.6 1318.3 L784.9 1316.4 L784.5 1314.3 L785.9 1312.7 L788 1313.8 L789.5 1315.7 L791.7 1316.6 L793.7 1317.5 L795.6 1317.4 L797.6 1316.6 L798.9 1315.3 L800.8 1314.6 L801.5 1312.7 L803.4 1336.1 L805.2 1335 L807.4 1335 L809.3 1334.1 L810.2 1335.8 L812.6 1336 L813.8 1337.5 L814.8 1339.1 L816.2 1340.3 L817.1 1342 L819.3 1342.4 L821 1344 L822.8 1345.2 L824.9 1345.9 L826.2 1347.2 L827.2 1348.8 L829.1 1349.5 L830.3 1350.9 L831.9 1351.9 L832.7 1353.7 L833.6 1351.7 L835.3 1350.4 L837.1 1349.2 L837.9 1347.1 L839.8 1346 L840.5 1343.9 L841.1 1346.1 L842.7 1347.5 L844 1349.1 L846.5 1349.8 L846.7 1352.3 L848.3 1353.7 L850.4 1354.1 L851.1 1356.4 L853.1 1357.1 L855 1357.7 L856.1 1359.5 L858.4 1359.6 L859.8 1357.5 L862.3 1358.2 L863.9 1356.6 L865 1358.3 L866.3 1359.7 L868.2 1360.5 L869.8 1361.5 L871.6 1360.6 L873.8 1360.5 L875.6 1359.5 L876.8 1361.1 L877.4 1363.1 L878.2 1365 L880.8 1365.7 L881.7 1367.5 L882.4 1369.5 L883.4 1371.2 L884.9 1369.4 L887.2 1369 L889.2 1368.1 L891.2 1367.3 L893.2 1366.1 L895.4 1365.3 L897.8 1365.6 L899.2 1367.3 L900.9 1368.7 L903.1 1368.7 L904.9 1370.1 L907.1 1370.2 L908.1 1372.1 L908 1374.4 L909.9 1375.9 L910.3 1378 L911.9 1377.2 L913.2 1375.8 L915.4 1376 L916.3 1373.9 L918.1 1373.4 L918.6 1375.4 L919.9 1376.9 L920.1 1379 L921 1380.8 L921.5 1382.7 L922.8 1384.3 L923.9 1382.9 L924.6 1381.1 L925.5 1379.6 L925.9 1377.7 L927.4 1376.5 L929.7 1376.3 L931.8 1376.8 L933.7 1378 L934.7 1379.9 L936.6 1380.6 L937.9 1382.2 L939.9 1382.7 L941.6 1382 L942.7 1380.3 L944.1 1379 L946.2 1379 L947.7 1378 L948.6 1380.2 L950.4 1381.5 L952.4 1382.7 L954.6 1383.7 L955.7 1385.7 L957.6 1386.9 L958.7 1389 L960.6 1388.2 L962.7 1388.5 L964.5 1387.5 L966.5 1387.4 L968.4 1388.2 L970.6 1388.6 L972.4 1389.6 L974.3 1390.5 L976.2 1390.9 L978 1391.9 L980.2 1391.6 L981.4 1394 L983.6 1393.7 L984.7 1391.9 L986.2 1390.6 L988.8 1390.8 L989.9 1389 L990.9 1390.9 L992.4 1392.5 L992.7 1394.7 L993 1396.8 L994.7 1395.6 L995.7 1393.9 L996.8 1392.2 L997.7 1390.5 L998.5 1392.5 L1000.4 1393.6 L1001 1395.8 L1003 1396.8" fill="none" stroke="#000000" stroke-width="5.0" stroke-linejoin="round" stroke-linecap="butt"/>
<path d="M72 1407.6 L73.5 1407.6 L75 1407.6 L76.5 1407.6 L78 1407.6 L79.5 1407.6 L81 1407.6 L82.5 1407.6 L84 1407.6 L85.5 1407.6 L87 1407.6 L88.5 1407.6 L90 1407.6 L91.5 1407.6 L93 1407.6 L94.5 1407.6 L96 1407.6 L97.5 1407.6 L99 1407.5 L100.5 1407.5 L102 1407.5 L103.5 1407.5 L105 1407.5 L106.5 1407.5 L108 1407.5 L109.5 1407.5 L111 1407.5 L112.5 1407.5 L114 1407.5 L115.5 1407.5 L117 1407.5 L118.5 1407.5 L120 1407.5 L121.5 1407.5 L123 1407.5 L124.5 1407.5 L126 1407.5 L127.5 1407.5 L129 1407.5 L130.5 1407.5 L132 1407.5 L133.5 1407.5 L135 1407.5 L136.5 1407.5 L138 1407.5 L139.5 1407.5 L141 1407.5 L142.5 1407.5 L144 1407.5 L145.5 1407.5 L147 1407.5 L148.5 1407.5 L150 1407.5 L151.5 1407.5 L153 1407.5 L154.5 1407.5 L156 1407.5 L157.5 1407.4 L159 1407.4 L160.5 1407.4 L162 1407.4 L163.5 1407.4 L165 1407.4 L166.5 1407.4 L168 1407.4 L169.5 1407.4 L171 1407.4 L172.5 1407.4 L174 1407.4 L175.5 1407.4 L177 1407.4 L178.5 1407.4 L180 1407.4 L181.5 1407.4 L183 1407.4 L184.5 1407.3 L186 1407.3 L187.5 1407.3 L189 1407.3 L190.5 1407.3 L192 1407.3 L193.5 1407.3 L195 1407.3 L196.5 1407.3 L198 1407.3 L199.5 1407.3 L201 1407.2 L202.5 1407.2 L204 1407.2 L205.5 1407.2 L207 1407.2 L208.5 1407.2 L210 1407.2 L211.5 1407.2 L213 1407.1 L214.5 1407.1 L216 1407.1 L217.5 1407.1 L219 1407.1 L220.5 1407.1 L222 1407.1 L223.5 1407 L225 1407 L226.5 1407 L228 1407 L229.5 1407 L231 1407 L232.5 1406.9 L234 1406.9 L235.5 1406.9 L237 1406.9 L238.5 1406.8 L240 1406.8 L241.5 1406.8 L243 1406.8 L244.5 1406.8 L246 1406.7 L247.5 1406.7 L249 1406.7 L250.5 1406.6 L252 1406.6 L253.5 1406.6 L255 1406.5 L256.5 1406.5 L258 1406.5 L259.5 1406.4 L261 1406.4 L262.5 1406.3 L264 1406.3 L265.5 1406.3 L267 1406.2 L268.5 1406.2 L270 1406.1 L271.5 1406.1 L273 1406 L274.4 1406 L275.9 1405.9 L277.4 1405.8 L278.9 1405.8 L280.4 1405.7 L281.9 1405.6 L283.3 1405.5 L284.8 1405.5 L286.3 1405.4 L287.8 1405.3 L289.3 1405.2 L290.8 1405 L292.2 1404.9 L293.7 1404.8 L295.2 1404.6 L296.7 1404.5 L298.2 1404.3 L299.7 1404.1 L301.2 1403.9 L302.7 1403.7 L304.2 1403.5 L305.7 1403.2 L307.2 1403 L308.7 1402.7 L310.3 1402.4 L311.8 1402.1 L313.3 1401.7 L314.8 1401.4 L316.3 1401 L317.8 1400.6 L319.3 1400.1 L320.7 1399.7 L322.2 1399.2 L323.6 1398.7 L325 1398.1 L326.4 1397.5 L327.8 1396.9 L329.1 1396.2 L330.4 1395.6 L331.7 1394.8 L333 1394.1 L334.2 1393.3 L335.4 1392.4 L336.5 1391.6 L337.6 1390.6 L338.7 1389.7 L339.7 1388.7 L340.7 1387.6 L341.7 1386.6 L342.6 1385.5 L343.5 1384.3 L344.4 1383.2 L345.3 1382 L346.1 1380.8 L346.9 1379.5 L347.7 1378.2 L348.4 1377 L349.2 1375.7 L349.9 1374.3 L350.6 1373 L351.2 1371.6 L351.9 1370.3 L352.5 1368.9 L353.2 1367.5 L353.8 1366.1 L354.4 1364.7 L355 1363.3 L355.6 1361.9 L356.2 1360.5 L356.7 1359.1 L357.3 1357.7 L357.9 1356.3 L358.4 1354.8 L359 1353.4 L359.5 1352 L360 1350.6 L360.6 1349.2 L361.1 1347.8 L361.6 1346.3 L362.1 1344.9 L362.6 1343.5 L363.1 1342.1 L363.6 1340.6 L364.1 1339.2 L364.6 1337.8 L365.1 1336.3 L365.5 1334.9 L366 1333.5 L366.4 1332 L366.9 1330.6 L367.3 1329.2 L367.8 1327.7 L368.2 1326.3 L368.6 1324.9 L369.1 1323.4 L369.5 1322 L369.9 1320.5 L370.3 1319.1 L370.7 1317.6 L371.1 1316.2 L371.5 1314.8 L371.9 1313.3 L372.3 1311.9 L372.7 1310.4 L373.1 1309 L373.4 1307.5 L373.8 1306.1 L374.2 1304.6 L374.6 1303.1 L374.9 1301.7 L375.3 1300.2 L375.6 1298.8 L376 1297.3 L376.3 1295.9 L376.7 1294.4 L377 1292.9 L377.3 1291.5 L377.7 1290 L378 1288.6 L378.3 1287.1 L378.7 1285.6 L379 1284.2 L379.3 1282.7 L379.6 1281.3 L379.9 1279.8 L380.2 1278.3 L380.5 1276.9 L380.8 1275.4 L381.1 1273.9 L381.4 1272.5 L381.7 1271 L382 1269.5 L382.3 1268.1 L382.6 1266.6 L382.9 1265.1 L383.2 1263.6 L383.5 1262.2 L383.8 1260.7 L384.1 1259.2 L384.3 1257.8 L384.6 1256.3 L384.9 1254.8 L385.2 1253.3 L385.4 1251.9 L385.7 1250.4 L386 1248.9 L386.2 1247.4 L386.5 1246 L386.8 1244.5 L387 1243 L387.3 1241.5 L387.5 1240.1 L387.8 1238.6 L388 1237.1 L388.3 1235.6 L388.5 1234.2 L388.8 1232.7 L389 1231.2 L389.3 1229.7 L389.5 1228.2 L389.7 1226.8 L390 1225.3 L390.2 1223.8 L390.5 1222.3 L390.7 1220.8 L390.9 1219.4 L391.2 1217.9 L391.4 1216.4 L391.6 1214.9 L391.8 1213.4 L392.1 1211.9 L392.3 1210.5 L392.5 1209 L392.7 1207.5 L393 1206 L393.2 1204.5 L393.4 1203 L393.6 1201.6 L393.8 1200.1 L394.1 1198.6 L394.3 1197.1 L394.5 1195.6 L394.7 1194.1 L394.9 1192.7 L395.1 1191.2 L395.3 1189.7 L395.6 1188.2 L395.8 1186.7 L396 1185.2 L396.2 1183.7 L396.4 1182.2 L396.6 1180.8 L396.8 1179.3 L397 1177.8 L397.2 1176.3 L397.4 1174.8 L397.6 1173.3 L397.8 1171.8 L398 1170.3 L398.2 1168.9 L398.4 1167.4 L398.6 1165.9 L398.8 1164.4 L399 1162.9 L399.2 1161.4 L399.4 1159.9 L399.6 1158.4 L399.8 1157 L400 1155.5 L400.2 1154 L400.4 1152.5 L400.6 1151 L400.8 1149.5 L401 1148 L401.2 1146.5 L401.4 1145.1 L401.6 1143.6 L401.8 1142.1 L402 1140.6 L402.2 1139.1 L402.4 1137.6 L402.6 1136.1 L402.8 1134.6 L403 1133.1 L403.2 1131.7 L403.4 1130.2 L403.6 1128.7 L403.8 1127.2 L404 1125.7 L404.2 1124.2 L404.4 1122.7 L404.6 1121.2 L404.8 1119.8 L405 1118.3 L405.2 1116.8 L405.4 1115.3 L405.6 1113.8 L405.8 1112.3 L406 1110.8 L406.2 1109.4 L406.4 1107.9 L406.6 1106.4 L406.8 1104.9 L407 1103.4 L407.2 1101.9 L407.5 1100.4 L407.7 1099 L407.9 1097.5 L408.1 1096 L408.3 1094.5 L408.5 1093 L408.7 1091.5 L408.9 1090 L409.2 1088.6 L409.4 1087.1 L409.6 1085.6 L409.8 1084.1 L410 1082.6 L410.3 1081.1 L410.5 1079.7 L410.7 1078.2 L410.9 1076.7 L411.2 1075.2 L411.4 1073.7 L411.6 1072.3 L411.8 1070.8 L412.1 1069.3 L412.3 1067.8 L412.5 1066.3 L412.8 1064.9 L413 1063.4 L413.2 1061.9 L413.5 1060.4 L413.7 1059 L414 1057.5 L414.2 1056 L414.5 1054.5 L414.7 1053 L415 1051.6 L415.2 1050.1 L415.5 1048.6 L415.7 1047.1 L416 1045.7 L416.2 1044.2 L416.5 1042.7 L416.8 1041.3 L417 1039.8 L417.3 1038.3 L417.6 1036.8 L417.8 1035.4 L418.1 1033.9 L418.4 1032.4 L418.7 1031 L418.9 1029.5 L419.2 1028 L419.5 1026.6 L419.8 1025.1 L420.1 1023.6 L420.4 1022.2 L420.6 1020.7 L420.9 1019.2 L421.2 1017.8 L421.5 1016.3 L421.8 1014.8 L422.1 1013.4 L422.4 1011.9 L422.7 1010.4 L423 1009 L423.3 1007.5 L423.7 1006 L424 1004.6 L424.3 1003.1 L424.6 1001.7 L424.9 1000.2 L425.2 998.7 L425.5 997.3 L425.8 995.8 L426.1 994.4 L426.4 992.9 L426.7 991.4 L427 990 L427.3 988.5 L427.6 987.1 L427.9 985.6 L428.2 984.1 L428.5 982.7 L428.8 981.2 L429.1 979.7 L429.4 978.3 L429.7 976.8 L430 975.3 L430.3 973.8 L430.7 972.3 L431 970.8 L431.3 969.3 L431.6 967.8 L431.9 966.3 L432.3 964.7 L432.6 963.1 L433 961.6 L433.3 960 L433.7 958.4 L434.1 956.8 L434.5 955.2 L435 953.6 L435.4 952.1 L436 950.6 L436.5 949.1 L437.1 947.6 L437.7 946.2 L438.4 944.8 L439.1 943.5 L439.8 942.2 L440.6 941 L441.5 939.8 L442.4 938.7 L443.3 937.7 L444.3 936.8 L445.4 935.9 L446.5 935.2 L447.6 934.5 L448.8 934 L450 933.5 L451.2 933.2 L452.5 932.9 L453.8 932.8 L455.2 932.8 L456.6 932.9 L458 933.1 L459.4 933.4 L460.9 933.8 L462.3 934.2 L463.7 934.7 L465.2 935.2 L466.6 935.8 L468 936.4 L469.4 937 L470.7 937.7 L472.1 938.4 L473.4 939.1 L474.7 939.9 L476 940.6 L477.2 941.4 L478.5 942.2 L479.7 943.1 L480.9 943.9 L482.1 944.8 L483.3 945.7 L484.4 946.6 L485.6 947.6 L486.7 948.5 L487.8 949.5 L488.9 950.5 L489.9 951.5 L491 952.6 L492 953.6 L493.1 954.7 L494.1 955.8 L495.1 956.9 L496.1 958 L497.1 959.1 L498 960.2 L499 961.4 L499.9 962.6 L500.9 963.7 L501.8 964.9 L502.7 966.1 L503.6 967.3 L504.5 968.5 L505.4 969.8 L506.2 971 L507.1 972.3 L508 973.5 L508.8 974.8 L509.7 976 L510.5 977.3 L511.4 978.6 L512.2 979.9 L513 981.2 L513.9 982.5 L514.7 983.7 L515.5 985 L516.3 986.3 L517.1 987.6 L517.9 989 L518.7 990.3 L519.5 991.6 L520.3 992.9 L521.1 994.2 L521.9 995.5 L522.7 996.8 L523.5 998.1 L524.3 999.4 L525.2 1000.7 L526 1002 L526.8 1003.2 L527.6 1004.5 L528.4 1005.8 L529.2 1007.1 L530 1008.4 L530.8 1009.7 L531.6 1010.9 L532.4 1012.2 L533.2 1013.5 L534 1014.8 L534.9 1016 L535.7 1017.3 L536.5 1018.6 L537.3 1019.8 L538.1 1021.1 L538.9 1022.3 L539.7 1023.6 L540.5 1024.9 L541.4 1026.1 L542.2 1027.4 L543 1028.6 L543.8 1029.9 L544.6 1031.1 L545.4 1032.4 L546.3 1033.6 L547.1 1034.9 L547.9 1036.1 L548.7 1037.4 L549.5 1038.6 L550.3 1039.9 L551.2 1041.1 L552 1042.3 L552.8 1043.6 L553.6 1044.8 L554.4 1046.1 L555.2 1047.3 L556 1048.6 L556.9 1049.8 L557.7 1051 L558.5 1052.3 L559.3 1053.5 L560.1 1054.8 L560.9 1056 L561.8 1057.3 L562.6 1058.5 L563.4 1059.7 L564.2 1061 L565 1062.2 L565.8 1063.5 L566.6 1064.7 L567.4 1066 L568.3 1067.2 L569.1 1068.5 L569.9 1069.7 L570.7 1071 L571.5 1072.2 L572.3 1073.5 L573.1 1074.7 L573.9 1076 L574.7 1077.2 L575.5 1078.5 L576.3 1079.7 L577.1 1081 L577.9 1082.3 L578.7 1083.5 L579.5 1084.8 L580.3 1086 L581.1 1087.3 L581.9 1088.6 L582.8 1089.8 L583.6 1091.1 L584.4 1092.3 L585.2 1093.6 L586 1094.9 L586.8 1096.1 L587.6 1097.4 L588.4 1098.7 L589.2 1099.9 L590 1101.2 L590.8 1102.5 L591.6 1103.7 L592.4 1105 L593.2 1106.3 L594 1107.5 L594.8 1108.8 L595.6 1110.1 L596.4 1111.3 L597.2 1112.6 L598 1113.9 L598.8 1115.1 L599.6 1116.4 L600.4 1117.7 L601.2 1119 L602 1120.2 L602.8 1121.5 L603.6 1122.8 L604.4 1124 L605.2 1125.3 L606.1 1126.6 L606.9 1127.8 L607.7 1129.1 L608.5 1130.4 L609.3 1131.6 L610.1 1132.9 L610.9 1134.2 L611.7 1135.4 L612.6 1136.7 L613.4 1137.9 L614.2 1139.2 L615 1140.5 L615.8 1141.7 L616.7 1143 L617.5 1144.2 L618.3 1145.5 L619.1 1146.8 L620 1148 L620.8 1149.3 L621.6 1150.5 L622.4 1151.8 L623.3 1153 L624.1 1154.3 L624.9 1155.5 L625.8 1156.8 L626.6 1158 L627.4 1159.3 L628.3 1160.5 L629.1 1161.8 L630 1163 L630.8 1164.3 L631.7 1165.5 L632.5 1166.8 L633.4 1168 L634.2 1169.2 L635.1 1170.5 L635.9 1171.7 L636.8 1172.9 L637.6 1174.2 L638.5 1175.4 L639.4 1176.6 L640.2 1177.9 L641.1 1179.1 L642 1180.3 L642.8 1181.5 L643.7 1182.8 L644.6 1184 L645.5 1185.2 L646.3 1186.4 L647.2 1187.6 L648.1 1188.9 L649 1190.1 L649.9 1191.3 L650.8 1192.5 L651.7 1193.7 L652.6 1194.9 L653.5 1196.1 L654.4 1197.3 L655.3 1198.5 L656.2 1199.7 L657.1 1200.9 L658 1202.1 L658.9 1203.2 L659.8 1204.4 L660.8 1205.6 L661.7 1206.8 L662.6 1208 L663.5 1209.2 L664.5 1210.3 L665.4 1211.5 L666.3 1212.7 L667.3 1213.8 L668.2 1215 L669.2 1216.2 L670.1 1217.3 L671.1 1218.5 L672 1219.6 L673 1220.8 L673.9 1221.9 L674.9 1223.1 L675.9 1224.2 L676.8 1225.4 L677.8 1226.5 L678.8 1227.6 L679.8 1228.8 L680.8 1229.9 L681.8 1231 L682.7 1232.1 L683.7 1233.3 L684.7 1234.4 L685.7 1235.5 L686.7 1236.6 L687.8 1237.7 L688.8 1238.8 L689.8 1239.9 L690.8 1241 L691.8 1242.1 L692.9 1243.2 L693.9 1244.3 L694.9 1245.4 L696 1246.4 L697 1247.5 L698.1 1248.6 L699.1 1249.7 L700.2 1250.7 L701.2 1251.8 L702.3 1252.9 L703.3 1253.9 L704.4 1255 L705.5 1256 L706.6 1257.1 L707.6 1258.1 L708.7 1259.1 L709.8 1260.2 L710.9 1261.2 L712 1262.2 L713.1 1263.3 L714.2 1264.3 L715.3 1265.3 L716.4 1266.3 L717.5 1267.3 L718.7 1268.3 L719.8 1269.3 L720.9 1270.3 L722 1271.3 L723.2 1272.3 L724.3 1273.3 L725.4 1274.2 L726.6 1275.2 L727.7 1276.2 L728.9 1277.1 L730 1278.1 L731.2 1279.1 L732.3 1280 L733.5 1281 L734.7 1281.9 L735.8 1282.9 L737 1283.8 L738.2 1284.7 L739.4 1285.6 L740.6 1286.6 L741.7 1287.5 L742.9 1288.4 L744.1 1289.3 L745.3 1290.2 L746.5 1291.1 L747.7 1292 L748.9 1292.9 L750.2 1293.8 L751.4 1294.7 L752.6 1295.5 L753.8 1296.4 L755 1297.3 L756.3 1298.1 L757.5 1299 L758.7 1299.8 L760 1300.7 L761.2 1301.5 L762.4 1302.4 L763.7 1303.2 L764.9 1304 L766.2 1304.9 L767.4 1305.7 L768.7 1306.5 L770 1307.3 L771.2 1308.1 L772.5 1308.9 L773.8 1309.7 L775 1310.5 L776.3 1311.2 L777.6 1312 L778.9 1312.8 L780.2 1313.6 L781.5 1314.3 L782.7 1315.1 L784 1315.8 L785.3 1316.6 L786.6 1317.3 L787.9 1318 L789.3 1318.8 L790.6 1319.5 L791.9 1320.2 L793.2 1320.9 L794.5 1321.6 L795.8 1322.3 L797.2 1323 L798.5 1323.7 L799.8 1324.4 L801.2 1325.1 L802.5 1325.7 L803.8 1326.4 L805.2 1327 L806.5 1327.7 L807.9 1328.3 L809.2 1329 L810.6 1329.6 L811.9 1330.3 L813.3 1330.9 L814.6 1331.5 L816 1332.1 L817.4 1332.7 L818.7 1333.3 L820.1 1333.9 L821.5 1334.5 L822.9 1335.1 L824.2 1335.6 L825.6 1336.2 L827 1336.8 L828.4 1337.3 L829.8 1337.9 L831.2 1338.4 L832.6 1339 L834 1339.5 L835.4 1340 L836.8 1340.5 L838.2 1341.1 L839.6 1341.6 L841 1342.1 L842.4 1342.6 L843.8 1343.1 L845.2 1343.5 L846.7 1344 L848.1 1344.5 L849.5 1345 L850.9 1345.4 L852.4 1345.9 L853.8 1346.4 L855.2 1346.8 L856.7 1347.3 L858.1 1347.7 L859.5 1348.1 L861 1348.6 L862.4 1349 L863.8 1349.4 L865.3 1349.8 L866.7 1350.2 L868.2 1350.7 L869.6 1351.1 L871.1 1351.5 L872.5 1351.9 L874 1352.2 L875.4 1352.6 L876.9 1353 L878.3 1353.4 L879.8 1353.8 L881.3 1354.1 L882.7 1354.5 L884.2 1354.9 L885.6 1355.2 L887.1 1355.6 L888.6 1355.9 L890 1356.3 L891.5 1356.6 L893 1356.9 L894.4 1357.3 L895.9 1357.6 L897.4 1357.9 L898.9 1358.2 L900.3 1358.6 L901.8 1358.9 L903.3 1359.2 L904.8 1359.5 L906.2 1359.8 L907.7 1360.1 L909.2 1360.4 L910.7 1360.7 L912.2 1361 L913.6 1361.3 L915.1 1361.6 L916.6 1361.9 L918.1 1362.1 L919.6 1362.4 L921.1 1362.7 L922.5 1363 L924 1363.2 L925.5 1363.5 L927 1363.8 L928.5 1364 L930 1364.3 L931.4 1364.5 L932.9 1364.8 L934.4 1365 L935.9 1365.3 L937.4 1365.5 L938.9 1365.8 L940.4 1366 L941.8 1366.3 L943.3 1366.5 L944.8 1366.7 L946.3 1367 L947.8 1367.2 L949.3 1367.4 L950.8 1367.7 L952.2 1367.9 L953.7 1368.1 L955.2 1368.3 L956.7 1368.6 L958.2 1368.8 L959.7 1369 L961.2 1369.2 L962.6 1369.4 L964.1 1369.7 L965.6 1369.9 L967.1 1370.1 L968.6 1370.3 L970 1370.5 L971.5 1370.7 L973 1370.9 L974.5 1371.1 L976 1371.3 L977.4 1371.5 L978.9 1371.7 L980.4 1371.9 L981.9 1372.1 L983.3 1372.3 L984.8 1372.5 L986.3 1372.7 L987.7 1372.9 L989.2 1373.1 L990.7 1373.3 L992.1 1373.5 L993.6 1373.7 L995.1 1373.9 L996.5 1374.1 L998 1374.3 L999.5 1374.5 L1000.9 1374.7 L1002.4 1374.9 L1003.8 1375.1" fill="none" stroke="#ff00ff" stroke-width="4.6" stroke-linejoin="round" stroke-linecap="butt"/>
</g>
<line x1="398.5" y1="97.3" x2="371" y2="123" stroke="#000" stroke-width="1.4"/>
<path d="M361.5 131.8 L369 119.6 L375 125.3 Z" fill="#000"/>
<line x1="528" y1="36.9" x2="605.5" y2="36.9" stroke="#000" stroke-width="4.4"/>
<g transform="translate(614.00 47.40)" fill="#000"><text x="0.00" y="0.00" font-family="Liberation Sans" font-size="37.7">Experimental</text><text x="230.49" y="0.00" font-family="Liberation Sans" font-size="37.7">data</text></g>
<line x1="528" y1="82" x2="605.5" y2="82" stroke="#ff0000" stroke-width="4.4"/>
<g transform="translate(614.00 92.60)" fill="#000"><text x="0.00" y="0.00" font-family="Liberation Sans" font-size="37.7">Resolved</text><text x="167.64" y="0.00" font-family="Liberation Sans" font-size="37.7">for</text><text x="222.11" y="0.00" font-family="Liberation Sans" font-size="37.7">Pt</text></g>
<line x1="528" y1="127.9" x2="605.5" y2="127.9" stroke="#ff00ff" stroke-width="4.4"/>
<g transform="translate(614.00 138.00)" fill="#000"><text x="0.00" y="0.00" font-family="Liberation Sans" font-size="37.7">Resolved</text><text x="167.64" y="0.00" font-family="Liberation Sans" font-size="37.7">for</text><text x="222.11" y="0.00" font-family="Liberation Sans" font-size="37.7" font-style="italic">A</text><path d="M257.53 0.00L254.22 0.00L258.52 -20.25C257.58 -19.53 256.37 -18.79 254.93 -18.08C253.49 -17.36 252.23 -16.81 251.18 -16.46L251.85 -19.59C253.80 -20.40 255.58 -21.37 257.18 -22.53C258.79 -23.69 259.99 -24.81 260.78 -25.94L263.04 -25.94Z"/><text x="268.23" y="0.00" font-family="Liberation Sans" font-size="37.7">-CoPt</text></g>
<line x1="528" y1="173.8" x2="605.5" y2="173.8" stroke="#ff8000" stroke-width="4.4"/>
<g transform="translate(614.00 184.50)" fill="#000"><text x="0.00" y="0.00" font-family="Liberation Sans" font-size="37.7">Resolved</text><text x="167.64" y="0.00" font-family="Liberation Sans" font-size="37.7">for</text><text x="222.11" y="0.00" font-family="Liberation Sans" font-size="37.7" font-style="italic">L</text><path d="M253.35 0.00L250.04 0.00L254.34 -20.25C253.40 -19.53 252.19 -18.79 250.75 -18.08C249.31 -17.36 248.05 -16.81 247.00 -16.46L247.67 -19.59C249.62 -20.40 251.40 -21.37 253.01 -22.53C254.61 -23.69 255.81 -24.81 256.60 -25.94L258.87 -25.94Z"/><text x="264.05" y="13.40" font-family="Liberation Sans" font-size="22">2</text><text x="276.28" y="0.00" font-family="Liberation Sans" font-size="37.7">-Co</text><text x="337.03" y="13.40" font-family="Liberation Sans" font-size="22">3</text><text x="349.27" y="0.00" font-family="Liberation Sans" font-size="37.7">Pt</text></g>
<line x1="528" y1="230.7" x2="605.5" y2="230.7" stroke="#0000ff" stroke-width="4.4"/>
<g transform="translate(614.00 241.40)" fill="#000"><text x="0.00" y="0.00" font-family="Liberation Sans" font-size="37.7">Resolved</text><text x="167.64" y="0.00" font-family="Liberation Sans" font-size="37.7">for</text><text x="222.11" y="0.00" font-family="Liberation Sans" font-size="37.7">Co</text></g>
<line x1="528" y1="276.6" x2="605.5" y2="276.6" stroke="#008000" stroke-width="4.4"/>
<g transform="translate(614.00 286.50)" fill="#000"><text x="0.00" y="0.00" font-family="Liberation Sans" font-size="37.7">Resolved</text><text x="167.64" y="0.00" font-family="Liberation Sans" font-size="37.7">for</text><text x="222.11" y="0.00" font-family="Liberation Sans" font-size="37.7">Ta</text></g>
<line x1="528" y1="737.5" x2="605.5" y2="737.5" stroke="#000" stroke-width="4.4"/>
<g transform="translate(614.00 749.30)" fill="#000"><text x="0.00" y="0.00" font-family="Liberation Sans" font-size="37.7">Experimental</text><text x="230.49" y="0.00" font-family="Liberation Sans" font-size="37.7">data</text></g>
<line x1="528" y1="783.2" x2="605.5" y2="783.2" stroke="#ff00ff" stroke-width="4.4"/>
<g transform="translate(614.00 794.60)" fill="#000"><text x="0.00" y="0.00" font-family="Liberation Sans" font-size="37.7">Resolved</text><text x="167.64" y="0.00" font-family="Liberation Sans" font-size="37.7">for</text><text x="222.11" y="0.00" font-family="Liberation Sans" font-size="37.7" font-style="italic">A</text><path d="M257.53 0.00L254.22 0.00L258.52 -20.25C257.58 -19.53 256.37 -18.79 254.93 -18.08C253.49 -17.36 252.23 -16.81 251.18 -16.46L251.85 -19.59C253.80 -20.40 255.58 -21.37 257.18 -22.53C258.79 -23.69 259.99 -24.81 260.78 -25.94L263.04 -25.94Z"/><text x="268.23" y="0.00" font-family="Liberation Sans" font-size="37.7">-CoPt</text></g>
<line x1="528" y1="829.4" x2="605.5" y2="829.4" stroke="#ff8000" stroke-width="4.4"/>
<g transform="translate(614.00 840.60)" fill="#000"><text x="0.00" y="0.00" font-family="Liberation Sans" font-size="37.7">Resolved</text><text x="167.64" y="0.00" font-family="Liberation Sans" font-size="37.7">for</text><text x="222.11" y="0.00" font-family="Liberation Sans" font-size="37.7" font-style="italic">L</text><path d="M253.35 0.00L250.04 0.00L254.34 -20.25C253.40 -19.53 252.19 -18.79 250.75 -18.08C249.31 -17.36 248.05 -16.81 247.00 -16.46L247.67 -19.59C249.62 -20.40 251.40 -21.37 253.01 -22.53C254.61 -23.69 255.81 -24.81 256.60 -25.94L258.87 -25.94Z"/><text x="264.05" y="13.40" font-family="Liberation Sans" font-size="22">2</text><text x="276.28" y="0.00" font-family="Liberation Sans" font-size="37.7">-Co</text><text x="337.03" y="13.40" font-family="Liberation Sans" font-size="22">3</text><text x="349.27" y="0.00" font-family="Liberation Sans" font-size="37.7">Pt</text></g>
<g transform="translate(100.80 50.60)" fill="#000"><text x="0.00" y="0.00" font-family="Liberation Sans" font-size="37.7">450</text><text x="73.38" y="0.00" font-family="Liberation Sans" font-size="37.7">°C</text></g>
<g transform="translate(102.80 100.10)" fill="#000"><text x="0.00" y="0.00" font-family="Liberation Serif" font-size="37.7">τ</text><text x="25.62" y="0.00" font-family="Liberation Sans" font-size="37.7">=</text><text x="58.11" y="0.00" font-family="Liberation Sans" font-size="37.7">30</text><text x="110.52" y="0.00" font-family="Liberation Sans" font-size="37.7">min</text></g>
<g transform="translate(100.80 756.80)" fill="#000"><text x="0.00" y="0.00" font-family="Liberation Sans" font-size="37.7">550</text><text x="73.38" y="0.00" font-family="Liberation Sans" font-size="37.7">°C</text></g>
<g transform="translate(102.80 806.20)" fill="#000"><text x="0.00" y="0.00" font-family="Liberation Serif" font-size="37.7">τ</text><text x="25.62" y="0.00" font-family="Liberation Sans" font-size="37.7">=</text><text x="58.11" y="0.00" font-family="Liberation Sans" font-size="37.7">30</text><text x="110.52" y="0.00" font-family="Liberation Sans" font-size="37.7">min</text></g>
<g transform="translate(428.30 159.00) rotate(-90)" fill="#000"><text x="0.00" y="0.00" font-family="Liberation Sans" font-size="37.3">Pt</text><text x="45.61" y="0.00" font-family="Liberation Sans" font-size="37.3">(</text><path d="M71.83 0.00L68.55 0.00L68.55 -20.03C67.77 -19.32 66.73 -18.60 65.46 -17.89C64.18 -17.17 63.05 -16.63 62.09 -16.28L62.09 -19.38C63.85 -20.18 65.40 -21.15 66.75 -22.29C68.10 -23.44 69.05 -24.55 69.59 -25.66L71.83 -25.66Z"/><path d="M92.58 0.00L89.30 0.00L89.30 -20.03C88.51 -19.32 87.48 -18.60 86.20 -17.89C84.93 -17.17 83.80 -16.63 82.83 -16.28L82.83 -19.38C84.60 -20.18 86.15 -21.15 87.49 -22.29C88.84 -23.44 89.79 -24.55 90.34 -25.66L92.58 -25.66Z"/><path d="M113.32 0.00L110.04 0.00L110.04 -20.03C109.26 -19.32 108.22 -18.60 106.95 -17.89C105.67 -17.17 104.54 -16.63 103.58 -16.28L103.58 -19.38C105.34 -20.18 106.89 -21.15 108.24 -22.29C109.59 -23.44 110.53 -24.55 111.08 -25.66L113.32 -25.66Z"/><text x="120.26" y="0.00" font-family="Liberation Sans" font-size="37.3">)</text></g>
<g transform="translate(435.20 479.00) rotate(-90)" fill="#000"><text x="0.00" y="0.00" font-family="Liberation Sans" font-size="37.3">CoPt</text><text x="93.29" y="0.00" font-family="Liberation Sans" font-size="37.3">(</text><path d="M119.51 0.00L116.23 0.00L116.23 -20.03C115.45 -19.32 114.41 -18.60 113.14 -17.89C111.86 -17.17 110.73 -16.63 109.77 -16.28L109.77 -19.38C111.54 -20.18 113.08 -21.15 114.43 -22.29C115.78 -23.44 116.73 -24.55 117.27 -25.66L119.51 -25.66Z"/><path d="M140.26 0.00L136.98 0.00L136.98 -20.03C136.20 -19.32 135.16 -18.60 133.88 -17.89C132.61 -17.17 131.48 -16.63 130.51 -16.28L130.51 -19.38C132.28 -20.18 133.83 -21.15 135.18 -22.29C136.52 -23.44 137.47 -24.55 138.02 -25.66L140.26 -25.66Z"/><path d="M161.00 0.00L157.72 0.00L157.72 -20.03C156.94 -19.32 155.90 -18.60 154.63 -17.89C153.35 -17.17 152.22 -16.63 151.26 -16.28L151.26 -19.38C153.02 -20.18 154.57 -21.15 155.92 -22.29C157.27 -23.44 158.22 -24.55 158.76 -25.66L161.00 -25.66Z"/><text x="167.94" y="0.00" font-family="Liberation Sans" font-size="37.3">)</text></g>
<g transform="translate(702.00 557.00) rotate(-90)" fill="#000"><text x="0.00" y="0.00" font-family="Liberation Sans" font-size="37.3">Co</text><text x="47.68" y="13.00" font-family="Liberation Sans" font-size="22">3</text><text x="59.92" y="0.00" font-family="Liberation Sans" font-size="37.3">Pt</text><text x="105.52" y="0.00" font-family="Liberation Sans" font-size="37.3">(</text><path d="M131.75 0.00L128.47 0.00L128.47 -20.03C127.69 -19.32 126.65 -18.60 125.37 -17.89C124.10 -17.17 122.97 -16.63 122.00 -16.28L122.00 -19.38C123.77 -20.18 125.32 -21.15 126.67 -22.29C128.01 -23.44 128.96 -24.55 129.51 -25.66L131.75 -25.66Z"/><path d="M152.49 0.00L149.21 0.00L149.21 -20.03C148.43 -19.32 147.39 -18.60 146.12 -17.89C144.84 -17.17 143.71 -16.63 142.75 -16.28L142.75 -19.38C144.52 -20.18 146.06 -21.15 147.41 -22.29C148.76 -23.44 149.71 -24.55 150.25 -25.66L152.49 -25.66Z"/><path d="M173.24 0.00L169.96 0.00L169.96 -20.03C169.18 -19.32 168.14 -18.60 166.86 -17.89C165.59 -17.17 164.46 -16.63 163.49 -16.28L163.49 -19.38C165.26 -20.18 166.81 -21.15 168.16 -22.29C169.50 -23.44 170.45 -24.55 171.00 -25.66L173.24 -25.66Z"/><text x="180.18" y="0.00" font-family="Liberation Sans" font-size="37.3">)</text></g>
<g transform="translate(948.00 639.50) rotate(-90)" fill="#000"><text x="0.00" y="0.00" font-family="Liberation Sans" font-size="37.3">Co</text><text x="58.04" y="0.00" font-family="Liberation Sans" font-size="37.3">(002)</text></g>
<g transform="translate(374.00 647.00) rotate(-90)" fill="#000"><text x="0.00" y="0.00" font-family="Liberation Sans" font-size="37.3">Co</text><text x="58.04" y="0.00" font-family="Liberation Sans" font-size="37.3">(</text><path d="M84.27 0.00L80.99 0.00L80.99 -20.03C80.21 -19.32 79.17 -18.60 77.90 -17.89C76.62 -17.17 75.49 -16.63 74.53 -16.28L74.53 -19.38C76.29 -20.18 77.84 -21.15 79.19 -22.29C80.54 -23.44 81.48 -24.55 82.03 -25.66L84.27 -25.66Z"/><text x="91.21" y="0.00" font-family="Liberation Sans" font-size="37.3">00)</text></g>
<g transform="translate(142.00 672.50) rotate(-90)" fill="#000"><text x="0.00" y="0.00" font-family="Liberation Sans" font-size="37.3">Ta</text><text x="53.89" y="0.00" font-family="Liberation Sans" font-size="37.3">(</text><path d="M80.12 0.00L76.84 0.00L76.84 -20.03C76.06 -19.32 75.02 -18.60 73.74 -17.89C72.47 -17.17 71.34 -16.63 70.37 -16.28L70.37 -19.38C72.14 -20.18 73.69 -21.15 75.04 -22.29C76.38 -23.44 77.33 -24.55 77.88 -25.66L80.12 -25.66Z"/><path d="M100.86 0.00L97.58 0.00L97.58 -20.03C96.80 -19.32 95.76 -18.60 94.49 -17.89C93.21 -17.17 92.08 -16.63 91.12 -16.28L91.12 -19.38C92.89 -20.18 94.43 -21.15 95.78 -22.29C97.13 -23.44 98.08 -24.55 98.62 -25.66L100.86 -25.66Z"/><text x="107.80" y="0.00" font-family="Liberation Sans" font-size="37.3">0)</text></g>
<g transform="translate(431.00 930.00) rotate(-90)" fill="#000"><text x="0.00" y="0.00" font-family="Liberation Sans" font-size="37.3">CoPt</text><text x="93.29" y="0.00" font-family="Liberation Sans" font-size="37.3">(</text><path d="M119.51 0.00L116.23 0.00L116.23 -20.03C115.45 -19.32 114.41 -18.60 113.14 -17.89C111.86 -17.17 110.73 -16.63 109.77 -16.28L109.77 -19.38C111.54 -20.18 113.08 -21.15 114.43 -22.29C115.78 -23.44 116.73 -24.55 117.27 -25.66L119.51 -25.66Z"/><path d="M140.26 0.00L136.98 0.00L136.98 -20.03C136.20 -19.32 135.16 -18.60 133.88 -17.89C132.61 -17.17 131.48 -16.63 130.51 -16.28L130.51 -19.38C132.28 -20.18 133.83 -21.15 135.18 -22.29C136.52 -23.44 137.47 -24.55 138.02 -25.66L140.26 -25.66Z"/><path d="M161.00 0.00L157.72 0.00L157.72 -20.03C156.94 -19.32 155.90 -18.60 154.63 -17.89C153.35 -17.17 152.22 -16.63 151.26 -16.28L151.26 -19.38C153.02 -20.18 154.57 -21.15 155.92 -22.29C157.27 -23.44 158.22 -24.55 158.76 -25.66L161.00 -25.66Z"/><text x="167.94" y="0.00" font-family="Liberation Sans" font-size="37.3">)</text></g>
<g transform="translate(51.20 1451.00)" fill="#000"><text x="0.00" y="0.00" font-family="Liberation Sans" font-size="36.5">38</text></g>
<g transform="translate(184.49 1451.00)" fill="#000"><text x="0.00" y="0.00" font-family="Liberation Sans" font-size="36.5">39</text></g>
<g transform="translate(317.77 1451.00)" fill="#000"><text x="0.00" y="0.00" font-family="Liberation Sans" font-size="36.5">40</text></g>
<g transform="translate(451.06 1451.00)" fill="#000"><text x="0.00" y="0.00" font-family="Liberation Sans" font-size="36.5">4</text><path d="M33.81 0.00L30.60 0.00L30.60 -19.60C29.83 -18.91 28.82 -18.20 27.57 -17.50C26.32 -16.81 25.22 -16.27 24.27 -15.93L24.27 -18.96C26.00 -19.75 27.52 -20.69 28.84 -21.81C30.16 -22.94 31.08 -24.02 31.62 -25.11L33.81 -25.11Z"/></g>
<g transform="translate(584.34 1451.00)" fill="#000"><text x="0.00" y="0.00" font-family="Liberation Sans" font-size="36.5">42</text></g>
<g transform="translate(717.63 1451.00)" fill="#000"><text x="0.00" y="0.00" font-family="Liberation Sans" font-size="36.5">43</text></g>
<g transform="translate(850.91 1451.00)" fill="#000"><text x="0.00" y="0.00" font-family="Liberation Sans" font-size="36.5">44</text></g>
<g transform="translate(984.20 1451.00)" fill="#000"><text x="0.00" y="0.00" font-family="Liberation Sans" font-size="36.5">45</text></g>
<g transform="translate(331.50 1515.00)" fill="#000"><text x="0.00" y="0.00" font-family="Liberation Sans" font-size="37.2">Diffraction</text><text x="177.79" y="0.00" font-family="Liberation Sans" font-size="37.2">angle</text><text x="279.15" y="0.00" font-family="Liberation Sans" font-size="37.2">2</text><text x="299.83" y="0.00" font-family="Liberation Serif" font-size="37.2">θ</text><text x="327.99" y="0.00" font-family="Liberation Sans" font-size="37.2">(deg)</text></g>
<g transform="translate(29.60 807.00) rotate(-90)" fill="#000"><text x="0.00" y="0.00" font-family="Liberation Sans" font-size="37.7">Intensity</text><text x="150.87" y="0.00" font-family="Liberation Sans" font-size="37.7">(a.u.)</text></g>
<defs><clipPath id="cp"><rect x="71.5" y="2.6" width="933" height="1405.7"/></clipPath></defs>
</svg></body></html>
